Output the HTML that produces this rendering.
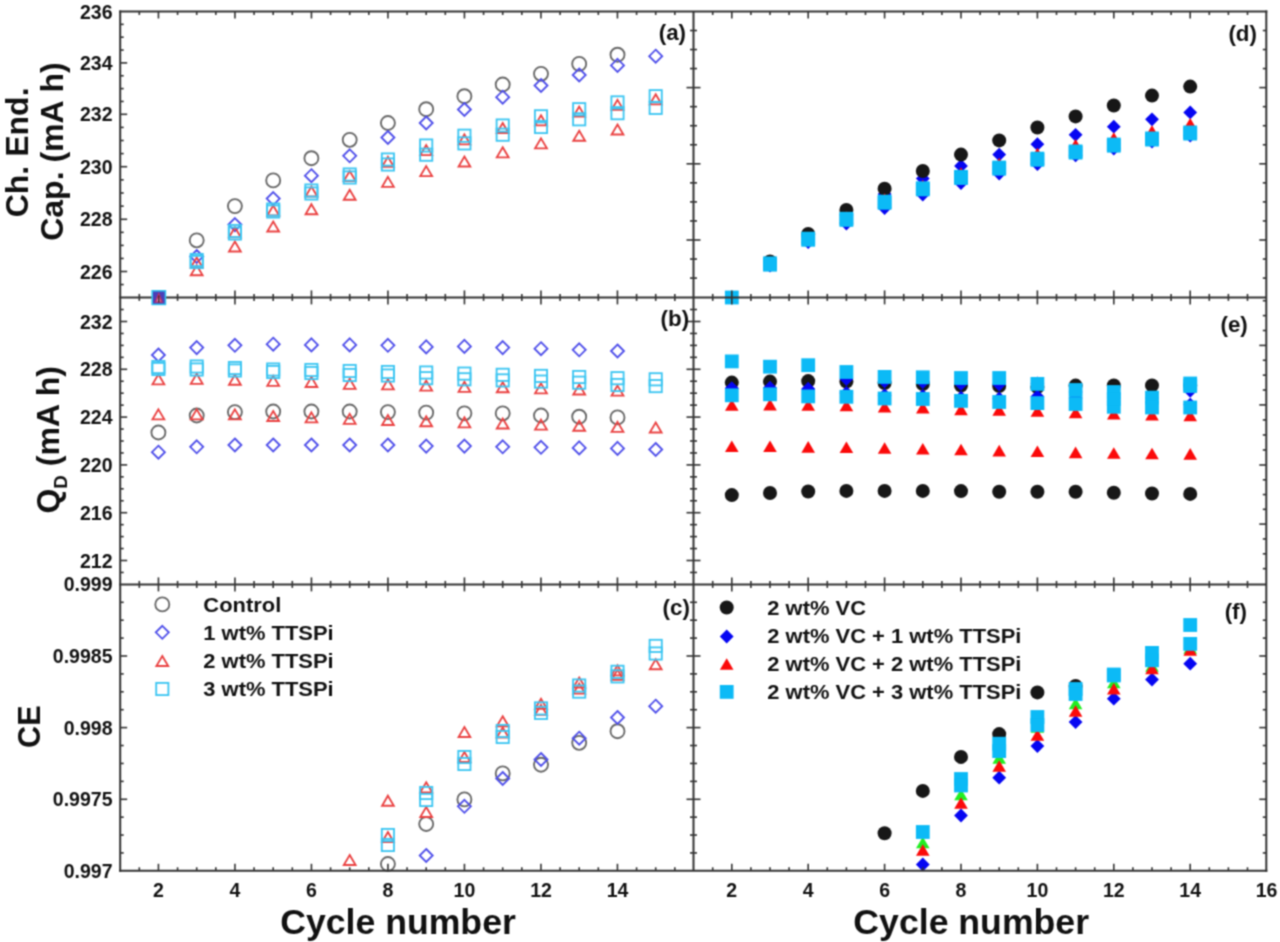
<!DOCTYPE html>
<html><head><meta charset="utf-8"><title>Figure</title>
<style>
html,body{margin:0;padding:0;background:#fff;width:1280px;height:942px;overflow:hidden}
svg{display:block}
text{font-family:"Liberation Sans",sans-serif;font-weight:bold;fill:#111}
</style></head>
<body>
<svg width="1280" height="942" viewBox="0 0 1280 942">
<defs><filter id="soft" x="0" y="0" width="1280" height="942" filterUnits="userSpaceOnUse" color-interpolation-filters="sRGB"><feConvolveMatrix order="3" kernelMatrix="0.0509 0.1238 0.0509 0.1238 0.3012 0.1238 0.0509 0.1238 0.0509" edgeMode="duplicate" preserveAlpha="false"/></filter></defs>
<g filter="url(#soft)">
<rect width="1280" height="942" fill="#fff"/>
<g>
<circle cx="196.7" cy="240.3" r="7.0" fill="none" stroke="#686868" stroke-width="1.85"/>
<circle cx="234.9" cy="206.1" r="7.0" fill="none" stroke="#686868" stroke-width="1.85"/>
<circle cx="273.2" cy="180.4" r="7.0" fill="none" stroke="#686868" stroke-width="1.85"/>
<circle cx="311.4" cy="158.2" r="7.0" fill="none" stroke="#686868" stroke-width="1.85"/>
<circle cx="349.7" cy="139.8" r="7.0" fill="none" stroke="#686868" stroke-width="1.85"/>
<circle cx="387.9" cy="123.0" r="7.0" fill="none" stroke="#686868" stroke-width="1.85"/>
<circle cx="426.2" cy="109.2" r="7.0" fill="none" stroke="#686868" stroke-width="1.85"/>
<circle cx="464.4" cy="96.2" r="7.0" fill="none" stroke="#686868" stroke-width="1.85"/>
<circle cx="502.7" cy="84.5" r="7.0" fill="none" stroke="#686868" stroke-width="1.85"/>
<circle cx="541.0" cy="73.8" r="7.0" fill="none" stroke="#686868" stroke-width="1.85"/>
<circle cx="579.2" cy="63.9" r="7.0" fill="none" stroke="#686868" stroke-width="1.85"/>
<circle cx="617.5" cy="54.7" r="7.0" fill="none" stroke="#686868" stroke-width="1.85"/>
<polygon points="196.7,250.0 203.2,256.5 196.7,263.0 190.2,256.5" fill="none" stroke="#5050ea" stroke-width="1.85"/>
<polygon points="234.9,218.1 241.4,224.6 234.9,231.1 228.4,224.6" fill="none" stroke="#5050ea" stroke-width="1.85"/>
<polygon points="273.2,192.1 279.7,198.6 273.2,205.1 266.7,198.6" fill="none" stroke="#5050ea" stroke-width="1.85"/>
<polygon points="311.4,169.2 317.9,175.7 311.4,182.2 304.9,175.7" fill="none" stroke="#5050ea" stroke-width="1.85"/>
<polygon points="349.7,149.3 356.2,155.8 349.7,162.3 343.2,155.8" fill="none" stroke="#5050ea" stroke-width="1.85"/>
<polygon points="387.9,131.0 394.4,137.5 387.9,144.0 381.4,137.5" fill="none" stroke="#5050ea" stroke-width="1.85"/>
<polygon points="426.2,116.5 432.7,123.0 426.2,129.5 419.7,123.0" fill="none" stroke="#5050ea" stroke-width="1.85"/>
<polygon points="464.4,103.0 470.9,109.5 464.4,116.0 457.9,109.5" fill="none" stroke="#5050ea" stroke-width="1.85"/>
<polygon points="502.7,90.7 509.2,97.2 502.7,103.7 496.2,97.2" fill="none" stroke="#5050ea" stroke-width="1.85"/>
<polygon points="541.0,79.0 547.5,85.5 541.0,92.0 534.5,85.5" fill="none" stroke="#5050ea" stroke-width="1.85"/>
<polygon points="579.2,68.5 585.7,75.0 579.2,81.5 572.7,75.0" fill="none" stroke="#5050ea" stroke-width="1.85"/>
<polygon points="617.5,58.9 624.0,65.4 617.5,71.9 611.0,65.4" fill="none" stroke="#5050ea" stroke-width="1.85"/>
<polygon points="655.7,49.7 662.2,56.2 655.7,62.7 649.2,56.2" fill="none" stroke="#5050ea" stroke-width="1.85"/>
<polygon points="196.7,257.5 202.6,267.5 190.8,267.5" fill="none" stroke="#ea4242" stroke-width="1.85" stroke-linejoin="miter"/>
<polygon points="234.9,227.3 240.8,237.3 229.0,237.3" fill="none" stroke="#ea4242" stroke-width="1.85" stroke-linejoin="miter"/>
<polygon points="273.2,205.5 279.1,215.5 267.3,215.5" fill="none" stroke="#ea4242" stroke-width="1.85" stroke-linejoin="miter"/>
<polygon points="311.4,186.5 317.3,196.5 305.6,196.5" fill="none" stroke="#ea4242" stroke-width="1.85" stroke-linejoin="miter"/>
<polygon points="349.7,171.0 355.6,181.0 343.8,181.0" fill="none" stroke="#ea4242" stroke-width="1.85" stroke-linejoin="miter"/>
<polygon points="387.9,156.8 393.8,166.8 382.1,166.8" fill="none" stroke="#ea4242" stroke-width="1.85" stroke-linejoin="miter"/>
<polygon points="426.2,145.1 432.1,155.1 420.3,155.1" fill="none" stroke="#ea4242" stroke-width="1.85" stroke-linejoin="miter"/>
<polygon points="464.4,134.4 470.3,144.4 458.6,144.4" fill="none" stroke="#ea4242" stroke-width="1.85" stroke-linejoin="miter"/>
<polygon points="502.7,123.0 508.6,133.0 496.8,133.0" fill="none" stroke="#ea4242" stroke-width="1.85" stroke-linejoin="miter"/>
<polygon points="541.0,115.3 546.9,125.3 535.1,125.3" fill="none" stroke="#ea4242" stroke-width="1.85" stroke-linejoin="miter"/>
<polygon points="579.2,106.6 585.1,116.6 573.3,116.6" fill="none" stroke="#ea4242" stroke-width="1.85" stroke-linejoin="miter"/>
<polygon points="617.5,99.9 623.4,109.9 611.6,109.9" fill="none" stroke="#ea4242" stroke-width="1.85" stroke-linejoin="miter"/>
<polygon points="655.7,94.3 661.6,104.3 649.8,104.3" fill="none" stroke="#ea4242" stroke-width="1.85" stroke-linejoin="miter"/>
<polygon points="196.7,265.2 202.6,275.2 190.8,275.2" fill="none" stroke="#ea4242" stroke-width="1.85" stroke-linejoin="miter"/>
<polygon points="234.9,241.5 240.8,251.5 229.0,251.5" fill="none" stroke="#ea4242" stroke-width="1.85" stroke-linejoin="miter"/>
<polygon points="273.2,221.5 279.1,231.5 267.3,231.5" fill="none" stroke="#ea4242" stroke-width="1.85" stroke-linejoin="miter"/>
<polygon points="311.4,204.2 317.3,214.2 305.6,214.2" fill="none" stroke="#ea4242" stroke-width="1.85" stroke-linejoin="miter"/>
<polygon points="349.7,189.7 355.6,199.7 343.8,199.7" fill="none" stroke="#ea4242" stroke-width="1.85" stroke-linejoin="miter"/>
<polygon points="387.9,176.9 393.8,186.9 382.1,186.9" fill="none" stroke="#ea4242" stroke-width="1.85" stroke-linejoin="miter"/>
<polygon points="426.2,166.1 432.1,176.1 420.3,176.1" fill="none" stroke="#ea4242" stroke-width="1.85" stroke-linejoin="miter"/>
<polygon points="464.4,156.5 470.3,166.5 458.6,166.5" fill="none" stroke="#ea4242" stroke-width="1.85" stroke-linejoin="miter"/>
<polygon points="502.7,147.3 508.6,157.3 496.8,157.3" fill="none" stroke="#ea4242" stroke-width="1.85" stroke-linejoin="miter"/>
<polygon points="541.0,138.4 546.9,148.4 535.1,148.4" fill="none" stroke="#ea4242" stroke-width="1.85" stroke-linejoin="miter"/>
<polygon points="579.2,130.7 585.1,140.7 573.3,140.7" fill="none" stroke="#ea4242" stroke-width="1.85" stroke-linejoin="miter"/>
<polygon points="617.5,124.5 623.4,134.5 611.6,134.5" fill="none" stroke="#ea4242" stroke-width="1.85" stroke-linejoin="miter"/>
<rect x="190.6" y="253.9" width="12.2" height="12.2" fill="none" stroke="#3ec6f2" stroke-width="1.85"/>
<rect x="228.8" y="224.9" width="12.2" height="12.2" fill="none" stroke="#3ec6f2" stroke-width="1.85"/>
<rect x="267.1" y="203.4" width="12.2" height="12.2" fill="none" stroke="#3ec6f2" stroke-width="1.85"/>
<rect x="305.3" y="184.4" width="12.2" height="12.2" fill="none" stroke="#3ec6f2" stroke-width="1.85"/>
<rect x="343.6" y="168.4" width="12.2" height="12.2" fill="none" stroke="#3ec6f2" stroke-width="1.85"/>
<rect x="381.8" y="153.4" width="12.2" height="12.2" fill="none" stroke="#3ec6f2" stroke-width="1.85"/>
<rect x="420.1" y="139.4" width="12.2" height="12.2" fill="none" stroke="#3ec6f2" stroke-width="1.85"/>
<rect x="458.3" y="129.6" width="12.2" height="12.2" fill="none" stroke="#3ec6f2" stroke-width="1.85"/>
<rect x="496.6" y="119.4" width="12.2" height="12.2" fill="none" stroke="#3ec6f2" stroke-width="1.85"/>
<rect x="534.9" y="110.2" width="12.2" height="12.2" fill="none" stroke="#3ec6f2" stroke-width="1.85"/>
<rect x="573.1" y="103.1" width="12.2" height="12.2" fill="none" stroke="#3ec6f2" stroke-width="1.85"/>
<rect x="611.4" y="96.3" width="12.2" height="12.2" fill="none" stroke="#3ec6f2" stroke-width="1.85"/>
<rect x="649.6" y="90.1" width="12.2" height="12.2" fill="none" stroke="#3ec6f2" stroke-width="1.85"/>
<rect x="190.6" y="255.9" width="12.2" height="12.2" fill="none" stroke="#3ec6f2" stroke-width="1.85"/>
<rect x="228.8" y="227.4" width="12.2" height="12.2" fill="none" stroke="#3ec6f2" stroke-width="1.85"/>
<rect x="267.1" y="205.4" width="12.2" height="12.2" fill="none" stroke="#3ec6f2" stroke-width="1.85"/>
<rect x="305.3" y="187.4" width="12.2" height="12.2" fill="none" stroke="#3ec6f2" stroke-width="1.85"/>
<rect x="343.6" y="171.4" width="12.2" height="12.2" fill="none" stroke="#3ec6f2" stroke-width="1.85"/>
<rect x="381.8" y="158.4" width="12.2" height="12.2" fill="none" stroke="#3ec6f2" stroke-width="1.85"/>
<rect x="420.1" y="148.6" width="12.2" height="12.2" fill="none" stroke="#3ec6f2" stroke-width="1.85"/>
<rect x="458.3" y="137.3" width="12.2" height="12.2" fill="none" stroke="#3ec6f2" stroke-width="1.85"/>
<rect x="496.6" y="128.6" width="12.2" height="12.2" fill="none" stroke="#3ec6f2" stroke-width="1.85"/>
<rect x="534.9" y="120.9" width="12.2" height="12.2" fill="none" stroke="#3ec6f2" stroke-width="1.85"/>
<rect x="573.1" y="113.2" width="12.2" height="12.2" fill="none" stroke="#3ec6f2" stroke-width="1.85"/>
<rect x="611.4" y="107.1" width="12.2" height="12.2" fill="none" stroke="#3ec6f2" stroke-width="1.85"/>
<rect x="649.6" y="101.8" width="12.2" height="12.2" fill="none" stroke="#3ec6f2" stroke-width="1.85"/>
<circle cx="158.4" cy="432.5" r="7.0" fill="none" stroke="#686868" stroke-width="1.85"/>
<circle cx="196.7" cy="415.5" r="7.0" fill="none" stroke="#686868" stroke-width="1.85"/>
<circle cx="234.9" cy="412.1" r="7.0" fill="none" stroke="#686868" stroke-width="1.85"/>
<circle cx="273.2" cy="411.5" r="7.0" fill="none" stroke="#686868" stroke-width="1.85"/>
<circle cx="311.4" cy="411.5" r="7.0" fill="none" stroke="#686868" stroke-width="1.85"/>
<circle cx="349.7" cy="411.5" r="7.0" fill="none" stroke="#686868" stroke-width="1.85"/>
<circle cx="387.9" cy="412.1" r="7.0" fill="none" stroke="#686868" stroke-width="1.85"/>
<circle cx="426.2" cy="412.6" r="7.0" fill="none" stroke="#686868" stroke-width="1.85"/>
<circle cx="464.4" cy="413.3" r="7.0" fill="none" stroke="#686868" stroke-width="1.85"/>
<circle cx="502.7" cy="413.3" r="7.0" fill="none" stroke="#686868" stroke-width="1.85"/>
<circle cx="541.0" cy="415.5" r="7.0" fill="none" stroke="#686868" stroke-width="1.85"/>
<circle cx="579.2" cy="416.7" r="7.0" fill="none" stroke="#686868" stroke-width="1.85"/>
<circle cx="617.5" cy="417.4" r="7.0" fill="none" stroke="#686868" stroke-width="1.85"/>
<polygon points="158.4,348.5 164.9,355.0 158.4,361.5 151.9,355.0" fill="none" stroke="#5050ea" stroke-width="1.85"/>
<polygon points="196.7,341.1 203.2,347.6 196.7,354.1 190.2,347.6" fill="none" stroke="#5050ea" stroke-width="1.85"/>
<polygon points="234.9,338.8 241.4,345.3 234.9,351.8 228.4,345.3" fill="none" stroke="#5050ea" stroke-width="1.85"/>
<polygon points="273.2,337.7 279.7,344.2 273.2,350.7 266.7,344.2" fill="none" stroke="#5050ea" stroke-width="1.85"/>
<polygon points="311.4,338.4 317.9,344.9 311.4,351.4 304.9,344.9" fill="none" stroke="#5050ea" stroke-width="1.85"/>
<polygon points="349.7,338.4 356.2,344.9 349.7,351.4 343.2,344.9" fill="none" stroke="#5050ea" stroke-width="1.85"/>
<polygon points="387.9,338.8 394.4,345.3 387.9,351.8 381.4,345.3" fill="none" stroke="#5050ea" stroke-width="1.85"/>
<polygon points="426.2,340.4 432.7,346.9 426.2,353.4 419.7,346.9" fill="none" stroke="#5050ea" stroke-width="1.85"/>
<polygon points="464.4,339.9 470.9,346.4 464.4,352.9 457.9,346.4" fill="none" stroke="#5050ea" stroke-width="1.85"/>
<polygon points="502.7,341.1 509.2,347.6 502.7,354.1 496.2,347.6" fill="none" stroke="#5050ea" stroke-width="1.85"/>
<polygon points="541.0,342.2 547.5,348.7 541.0,355.2 534.5,348.7" fill="none" stroke="#5050ea" stroke-width="1.85"/>
<polygon points="579.2,343.3 585.7,349.8 579.2,356.3 572.7,349.8" fill="none" stroke="#5050ea" stroke-width="1.85"/>
<polygon points="617.5,344.5 624.0,351.0 617.5,357.5 611.0,351.0" fill="none" stroke="#5050ea" stroke-width="1.85"/>
<polygon points="158.4,445.7 164.9,452.2 158.4,458.7 151.9,452.2" fill="none" stroke="#5050ea" stroke-width="1.85"/>
<polygon points="196.7,440.3 203.2,446.8 196.7,453.3 190.2,446.8" fill="none" stroke="#5050ea" stroke-width="1.85"/>
<polygon points="234.9,438.5 241.4,445.0 234.9,451.5 228.4,445.0" fill="none" stroke="#5050ea" stroke-width="1.85"/>
<polygon points="273.2,438.5 279.7,445.0 273.2,451.5 266.7,445.0" fill="none" stroke="#5050ea" stroke-width="1.85"/>
<polygon points="311.4,438.5 317.9,445.0 311.4,451.5 304.9,445.0" fill="none" stroke="#5050ea" stroke-width="1.85"/>
<polygon points="349.7,438.5 356.2,445.0 349.7,451.5 343.2,445.0" fill="none" stroke="#5050ea" stroke-width="1.85"/>
<polygon points="387.9,438.5 394.4,445.0 387.9,451.5 381.4,445.0" fill="none" stroke="#5050ea" stroke-width="1.85"/>
<polygon points="426.2,439.6 432.7,446.1 426.2,452.6 419.7,446.1" fill="none" stroke="#5050ea" stroke-width="1.85"/>
<polygon points="464.4,439.6 470.9,446.1 464.4,452.6 457.9,446.1" fill="none" stroke="#5050ea" stroke-width="1.85"/>
<polygon points="502.7,440.3 509.2,446.8 502.7,453.3 496.2,446.8" fill="none" stroke="#5050ea" stroke-width="1.85"/>
<polygon points="541.0,440.8 547.5,447.3 541.0,453.8 534.5,447.3" fill="none" stroke="#5050ea" stroke-width="1.85"/>
<polygon points="579.2,441.4 585.7,447.9 579.2,454.4 572.7,447.9" fill="none" stroke="#5050ea" stroke-width="1.85"/>
<polygon points="617.5,441.9 624.0,448.4 617.5,454.9 611.0,448.4" fill="none" stroke="#5050ea" stroke-width="1.85"/>
<polygon points="655.7,443.0 662.2,449.5 655.7,456.0 649.2,449.5" fill="none" stroke="#5050ea" stroke-width="1.85"/>
<polygon points="158.4,374.3 164.3,384.3 152.5,384.3" fill="none" stroke="#ea4242" stroke-width="1.85" stroke-linejoin="miter"/>
<polygon points="196.7,373.8 202.6,383.8 190.8,383.8" fill="none" stroke="#ea4242" stroke-width="1.85" stroke-linejoin="miter"/>
<polygon points="234.9,374.7 240.8,384.7 229.0,384.7" fill="none" stroke="#ea4242" stroke-width="1.85" stroke-linejoin="miter"/>
<polygon points="273.2,375.9 279.1,385.9 267.3,385.9" fill="none" stroke="#ea4242" stroke-width="1.85" stroke-linejoin="miter"/>
<polygon points="311.4,377.0 317.3,387.0 305.6,387.0" fill="none" stroke="#ea4242" stroke-width="1.85" stroke-linejoin="miter"/>
<polygon points="349.7,378.8 355.6,388.8 343.8,388.8" fill="none" stroke="#ea4242" stroke-width="1.85" stroke-linejoin="miter"/>
<polygon points="387.9,379.3 393.8,389.3 382.1,389.3" fill="none" stroke="#ea4242" stroke-width="1.85" stroke-linejoin="miter"/>
<polygon points="426.2,380.6 432.1,390.6 420.3,390.6" fill="none" stroke="#ea4242" stroke-width="1.85" stroke-linejoin="miter"/>
<polygon points="464.4,381.8 470.3,391.8 458.6,391.8" fill="none" stroke="#ea4242" stroke-width="1.85" stroke-linejoin="miter"/>
<polygon points="502.7,382.2 508.6,392.2 496.8,392.2" fill="none" stroke="#ea4242" stroke-width="1.85" stroke-linejoin="miter"/>
<polygon points="541.0,383.4 546.9,393.4 535.1,393.4" fill="none" stroke="#ea4242" stroke-width="1.85" stroke-linejoin="miter"/>
<polygon points="579.2,384.5 585.1,394.5 573.3,394.5" fill="none" stroke="#ea4242" stroke-width="1.85" stroke-linejoin="miter"/>
<polygon points="617.5,385.6 623.4,395.6 611.6,395.6" fill="none" stroke="#ea4242" stroke-width="1.85" stroke-linejoin="miter"/>
<polygon points="158.4,409.4 164.3,419.4 152.5,419.4" fill="none" stroke="#ea4242" stroke-width="1.85" stroke-linejoin="miter"/>
<polygon points="196.7,409.4 202.6,419.4 190.8,419.4" fill="none" stroke="#ea4242" stroke-width="1.85" stroke-linejoin="miter"/>
<polygon points="234.9,409.4 240.8,419.4 229.0,419.4" fill="none" stroke="#ea4242" stroke-width="1.85" stroke-linejoin="miter"/>
<polygon points="273.2,411.0 279.1,421.0 267.3,421.0" fill="none" stroke="#ea4242" stroke-width="1.85" stroke-linejoin="miter"/>
<polygon points="311.4,412.4 317.3,422.4 305.6,422.4" fill="none" stroke="#ea4242" stroke-width="1.85" stroke-linejoin="miter"/>
<polygon points="349.7,413.9 355.6,423.9 343.8,423.9" fill="none" stroke="#ea4242" stroke-width="1.85" stroke-linejoin="miter"/>
<polygon points="387.9,415.0 393.8,425.0 382.1,425.0" fill="none" stroke="#ea4242" stroke-width="1.85" stroke-linejoin="miter"/>
<polygon points="426.2,416.2 432.1,426.2 420.3,426.2" fill="none" stroke="#ea4242" stroke-width="1.85" stroke-linejoin="miter"/>
<polygon points="464.4,417.3 470.3,427.3 458.6,427.3" fill="none" stroke="#ea4242" stroke-width="1.85" stroke-linejoin="miter"/>
<polygon points="502.7,418.5 508.6,428.5 496.8,428.5" fill="none" stroke="#ea4242" stroke-width="1.85" stroke-linejoin="miter"/>
<polygon points="541.0,419.6 546.9,429.6 535.1,429.6" fill="none" stroke="#ea4242" stroke-width="1.85" stroke-linejoin="miter"/>
<polygon points="579.2,420.7 585.1,430.7 573.3,430.7" fill="none" stroke="#ea4242" stroke-width="1.85" stroke-linejoin="miter"/>
<polygon points="617.5,421.9 623.4,431.9 611.6,431.9" fill="none" stroke="#ea4242" stroke-width="1.85" stroke-linejoin="miter"/>
<polygon points="655.7,422.5 661.6,432.5 649.8,432.5" fill="none" stroke="#ea4242" stroke-width="1.85" stroke-linejoin="miter"/>
<rect x="152.3" y="360.9" width="12.2" height="12.2" fill="none" stroke="#3ec6f2" stroke-width="1.85"/>
<rect x="190.6" y="360.4" width="12.2" height="12.2" fill="none" stroke="#3ec6f2" stroke-width="1.85"/>
<rect x="228.8" y="361.9" width="12.2" height="12.2" fill="none" stroke="#3ec6f2" stroke-width="1.85"/>
<rect x="267.1" y="363.4" width="12.2" height="12.2" fill="none" stroke="#3ec6f2" stroke-width="1.85"/>
<rect x="305.3" y="363.9" width="12.2" height="12.2" fill="none" stroke="#3ec6f2" stroke-width="1.85"/>
<rect x="343.6" y="364.9" width="12.2" height="12.2" fill="none" stroke="#3ec6f2" stroke-width="1.85"/>
<rect x="381.8" y="365.9" width="12.2" height="12.2" fill="none" stroke="#3ec6f2" stroke-width="1.85"/>
<rect x="420.1" y="366.4" width="12.2" height="12.2" fill="none" stroke="#3ec6f2" stroke-width="1.85"/>
<rect x="458.3" y="367.5" width="12.2" height="12.2" fill="none" stroke="#3ec6f2" stroke-width="1.85"/>
<rect x="496.6" y="368.7" width="12.2" height="12.2" fill="none" stroke="#3ec6f2" stroke-width="1.85"/>
<rect x="534.9" y="369.8" width="12.2" height="12.2" fill="none" stroke="#3ec6f2" stroke-width="1.85"/>
<rect x="573.1" y="370.9" width="12.2" height="12.2" fill="none" stroke="#3ec6f2" stroke-width="1.85"/>
<rect x="611.4" y="372.1" width="12.2" height="12.2" fill="none" stroke="#3ec6f2" stroke-width="1.85"/>
<rect x="649.6" y="373.2" width="12.2" height="12.2" fill="none" stroke="#3ec6f2" stroke-width="1.85"/>
<rect x="152.3" y="362.9" width="12.2" height="12.2" fill="none" stroke="#3ec6f2" stroke-width="1.85"/>
<rect x="190.6" y="363.4" width="12.2" height="12.2" fill="none" stroke="#3ec6f2" stroke-width="1.85"/>
<rect x="228.8" y="364.4" width="12.2" height="12.2" fill="none" stroke="#3ec6f2" stroke-width="1.85"/>
<rect x="267.1" y="365.9" width="12.2" height="12.2" fill="none" stroke="#3ec6f2" stroke-width="1.85"/>
<rect x="305.3" y="366.9" width="12.2" height="12.2" fill="none" stroke="#3ec6f2" stroke-width="1.85"/>
<rect x="343.6" y="368.9" width="12.2" height="12.2" fill="none" stroke="#3ec6f2" stroke-width="1.85"/>
<rect x="381.8" y="369.4" width="12.2" height="12.2" fill="none" stroke="#3ec6f2" stroke-width="1.85"/>
<rect x="420.1" y="372.1" width="12.2" height="12.2" fill="none" stroke="#3ec6f2" stroke-width="1.85"/>
<rect x="458.3" y="373.2" width="12.2" height="12.2" fill="none" stroke="#3ec6f2" stroke-width="1.85"/>
<rect x="496.6" y="374.3" width="12.2" height="12.2" fill="none" stroke="#3ec6f2" stroke-width="1.85"/>
<rect x="534.9" y="375.5" width="12.2" height="12.2" fill="none" stroke="#3ec6f2" stroke-width="1.85"/>
<rect x="573.1" y="376.6" width="12.2" height="12.2" fill="none" stroke="#3ec6f2" stroke-width="1.85"/>
<rect x="611.4" y="378.9" width="12.2" height="12.2" fill="none" stroke="#3ec6f2" stroke-width="1.85"/>
<rect x="649.6" y="380.0" width="12.2" height="12.2" fill="none" stroke="#3ec6f2" stroke-width="1.85"/>
<circle cx="387.9" cy="864.0" r="7.0" fill="none" stroke="#686868" stroke-width="1.85"/>
<circle cx="426.2" cy="824.0" r="7.0" fill="none" stroke="#686868" stroke-width="1.85"/>
<circle cx="464.4" cy="799.4" r="7.0" fill="none" stroke="#686868" stroke-width="1.85"/>
<circle cx="502.7" cy="773.4" r="7.0" fill="none" stroke="#686868" stroke-width="1.85"/>
<circle cx="541.0" cy="764.7" r="7.0" fill="none" stroke="#686868" stroke-width="1.85"/>
<circle cx="579.2" cy="742.8" r="7.0" fill="none" stroke="#686868" stroke-width="1.85"/>
<circle cx="617.5" cy="731.2" r="7.0" fill="none" stroke="#686868" stroke-width="1.85"/>
<polygon points="426.2,849.0 432.7,855.5 426.2,862.0 419.7,855.5" fill="none" stroke="#5050ea" stroke-width="1.85"/>
<polygon points="464.4,799.8 470.9,806.3 464.4,812.8 457.9,806.3" fill="none" stroke="#5050ea" stroke-width="1.85"/>
<polygon points="502.7,772.0 509.2,778.5 502.7,785.0 496.2,778.5" fill="none" stroke="#5050ea" stroke-width="1.85"/>
<polygon points="541.0,753.0 547.5,759.5 541.0,766.0 534.5,759.5" fill="none" stroke="#5050ea" stroke-width="1.85"/>
<polygon points="579.2,731.7 585.7,738.2 579.2,744.7 572.7,738.2" fill="none" stroke="#5050ea" stroke-width="1.85"/>
<polygon points="617.5,711.0 624.0,717.5 617.5,724.0 611.0,717.5" fill="none" stroke="#5050ea" stroke-width="1.85"/>
<polygon points="655.7,699.7 662.2,706.2 655.7,712.7 649.2,706.2" fill="none" stroke="#5050ea" stroke-width="1.85"/>
<polygon points="387.9,795.7 393.8,805.7 382.1,805.7" fill="none" stroke="#ea4242" stroke-width="1.85" stroke-linejoin="miter"/>
<polygon points="426.2,782.3 432.1,792.3 420.3,792.3" fill="none" stroke="#ea4242" stroke-width="1.85" stroke-linejoin="miter"/>
<polygon points="464.4,727.0 470.3,737.0 458.6,737.0" fill="none" stroke="#ea4242" stroke-width="1.85" stroke-linejoin="miter"/>
<polygon points="502.7,716.3 508.6,726.3 496.8,726.3" fill="none" stroke="#ea4242" stroke-width="1.85" stroke-linejoin="miter"/>
<polygon points="541.0,698.8 546.9,708.8 535.1,708.8" fill="none" stroke="#ea4242" stroke-width="1.85" stroke-linejoin="miter"/>
<polygon points="579.2,677.5 585.1,687.5 573.3,687.5" fill="none" stroke="#ea4242" stroke-width="1.85" stroke-linejoin="miter"/>
<polygon points="617.5,665.3 623.4,675.3 611.6,675.3" fill="none" stroke="#ea4242" stroke-width="1.85" stroke-linejoin="miter"/>
<polygon points="655.7,659.2 661.6,669.2 649.8,669.2" fill="none" stroke="#ea4242" stroke-width="1.85" stroke-linejoin="miter"/>
<polygon points="349.7,855.0 355.6,865.0 343.8,865.0" fill="none" stroke="#ea4242" stroke-width="1.85" stroke-linejoin="miter"/>
<polygon points="387.9,832.0 393.8,842.0 382.1,842.0" fill="none" stroke="#ea4242" stroke-width="1.85" stroke-linejoin="miter"/>
<polygon points="426.2,807.0 432.1,817.0 420.3,817.0" fill="none" stroke="#ea4242" stroke-width="1.85" stroke-linejoin="miter"/>
<polygon points="464.4,752.0 470.3,762.0 458.6,762.0" fill="none" stroke="#ea4242" stroke-width="1.85" stroke-linejoin="miter"/>
<polygon points="502.7,727.5 508.6,737.5 496.8,737.5" fill="none" stroke="#ea4242" stroke-width="1.85" stroke-linejoin="miter"/>
<polygon points="541.0,704.9 546.9,714.9 535.1,714.9" fill="none" stroke="#ea4242" stroke-width="1.85" stroke-linejoin="miter"/>
<polygon points="579.2,683.6 585.1,693.6 573.3,693.6" fill="none" stroke="#ea4242" stroke-width="1.85" stroke-linejoin="miter"/>
<polygon points="617.5,669.8 623.4,679.8 611.6,679.8" fill="none" stroke="#ea4242" stroke-width="1.85" stroke-linejoin="miter"/>
<rect x="381.8" y="828.9" width="12.2" height="12.2" fill="none" stroke="#3ec6f2" stroke-width="1.85"/>
<rect x="420.1" y="786.9" width="12.2" height="12.2" fill="none" stroke="#3ec6f2" stroke-width="1.85"/>
<rect x="458.3" y="750.9" width="12.2" height="12.2" fill="none" stroke="#3ec6f2" stroke-width="1.85"/>
<rect x="496.6" y="724.9" width="12.2" height="12.2" fill="none" stroke="#3ec6f2" stroke-width="1.85"/>
<rect x="534.9" y="702.3" width="12.2" height="12.2" fill="none" stroke="#3ec6f2" stroke-width="1.85"/>
<rect x="573.1" y="679.4" width="12.2" height="12.2" fill="none" stroke="#3ec6f2" stroke-width="1.85"/>
<rect x="611.4" y="665.7" width="12.2" height="12.2" fill="none" stroke="#3ec6f2" stroke-width="1.85"/>
<rect x="649.6" y="639.8" width="12.2" height="12.2" fill="none" stroke="#3ec6f2" stroke-width="1.85"/>
<rect x="381.8" y="838.9" width="12.2" height="12.2" fill="none" stroke="#3ec6f2" stroke-width="1.85"/>
<rect x="420.1" y="793.9" width="12.2" height="12.2" fill="none" stroke="#3ec6f2" stroke-width="1.85"/>
<rect x="458.3" y="757.9" width="12.2" height="12.2" fill="none" stroke="#3ec6f2" stroke-width="1.85"/>
<rect x="496.6" y="730.9" width="12.2" height="12.2" fill="none" stroke="#3ec6f2" stroke-width="1.85"/>
<rect x="534.9" y="706.8" width="12.2" height="12.2" fill="none" stroke="#3ec6f2" stroke-width="1.85"/>
<rect x="573.1" y="685.5" width="12.2" height="12.2" fill="none" stroke="#3ec6f2" stroke-width="1.85"/>
<rect x="611.4" y="670.3" width="12.2" height="12.2" fill="none" stroke="#3ec6f2" stroke-width="1.85"/>
<rect x="649.6" y="647.4" width="12.2" height="12.2" fill="none" stroke="#3ec6f2" stroke-width="1.85"/>
<circle cx="162.3" cy="604.4" r="7.0" fill="none" stroke="#686868" stroke-width="1.85"/>
<polygon points="162.3,625.8 168.8,632.3 162.3,638.8 155.8,632.3" fill="none" stroke="#5050ea" stroke-width="1.85"/>
<polygon points="162.3,656.0 168.2,666.0 156.4,666.0" fill="none" stroke="#ea4242" stroke-width="1.85" stroke-linejoin="miter"/>
<rect x="156.2" y="682.9" width="12.2" height="12.2" fill="none" stroke="#3ec6f2" stroke-width="1.85"/>
<polygon points="770.0,258.6 776.9,265.5 770.0,272.4 763.1,265.5" fill="#0606f2"/>
<polygon points="808.2,235.2 815.1,242.1 808.2,249.0 801.3,242.1" fill="#0606f2"/>
<polygon points="846.4,216.6 853.3,223.5 846.4,230.4 839.5,223.5" fill="#0606f2"/>
<polygon points="884.6,201.1 891.5,208.0 884.6,214.9 877.7,208.0" fill="#0606f2"/>
<polygon points="922.8,187.7 929.7,194.6 922.8,201.5 915.9,194.6" fill="#0606f2"/>
<polygon points="961.0,176.2 967.9,183.1 961.0,190.0 954.1,183.1" fill="#0606f2"/>
<polygon points="999.2,166.7 1006.1,173.6 999.2,180.5 992.3,173.6" fill="#0606f2"/>
<polygon points="1037.4,157.1 1044.3,164.0 1037.4,170.9 1030.5,164.0" fill="#0606f2"/>
<polygon points="1075.6,148.5 1082.5,155.4 1075.6,162.3 1068.7,155.4" fill="#0606f2"/>
<polygon points="1113.8,141.6 1120.7,148.5 1113.8,155.4 1106.9,148.5" fill="#0606f2"/>
<polygon points="1152.0,134.7 1158.9,141.6 1152.0,148.5 1145.1,141.6" fill="#0606f2"/>
<polygon points="1190.2,128.7 1197.1,135.6 1190.2,142.5 1183.3,135.6" fill="#0606f2"/>
<polygon points="770.0,257.1 776.9,264.0 770.0,270.9 763.1,264.0" fill="#0606f2"/>
<polygon points="808.2,230.1 815.1,237.0 808.2,243.9 801.3,237.0" fill="#0606f2"/>
<polygon points="846.4,208.1 853.3,215.0 846.4,221.9 839.5,215.0" fill="#0606f2"/>
<polygon points="884.6,187.1 891.5,194.0 884.6,200.9 877.7,194.0" fill="#0606f2"/>
<polygon points="922.8,171.7 929.7,178.6 922.8,185.5 915.9,178.6" fill="#0606f2"/>
<polygon points="961.0,159.0 967.9,165.9 961.0,172.8 954.1,165.9" fill="#0606f2"/>
<polygon points="999.2,147.7 1006.1,154.6 999.2,161.5 992.3,154.6" fill="#0606f2"/>
<polygon points="1037.4,137.3 1044.3,144.2 1037.4,151.1 1030.5,144.2" fill="#0606f2"/>
<polygon points="1075.6,127.9 1082.5,134.8 1075.6,141.7 1068.7,134.8" fill="#0606f2"/>
<polygon points="1113.8,119.8 1120.7,126.7 1113.8,133.6 1106.9,126.7" fill="#0606f2"/>
<polygon points="1152.0,112.4 1158.9,119.3 1152.0,126.2 1145.1,119.3" fill="#0606f2"/>
<polygon points="1190.2,105.5 1197.1,112.4 1190.2,119.3 1183.3,112.4" fill="#0606f2"/>
<circle cx="770.0" cy="261.5" r="7.0" fill="#171717"/>
<circle cx="808.2" cy="233.9" r="7.0" fill="#171717"/>
<circle cx="846.4" cy="210.0" r="7.0" fill="#171717"/>
<circle cx="884.6" cy="188.8" r="7.0" fill="#171717"/>
<circle cx="922.8" cy="171.0" r="7.0" fill="#171717"/>
<circle cx="961.0" cy="154.6" r="7.0" fill="#171717"/>
<circle cx="999.2" cy="140.4" r="7.0" fill="#171717"/>
<circle cx="1037.4" cy="127.5" r="7.0" fill="#171717"/>
<circle cx="1075.6" cy="116.4" r="7.0" fill="#171717"/>
<circle cx="1113.8" cy="105.5" r="7.0" fill="#171717"/>
<circle cx="1152.0" cy="95.6" r="7.0" fill="#171717"/>
<circle cx="1190.2" cy="86.6" r="7.0" fill="#171717"/>
<polygon points="770.0,259.2 776.8,270.8 763.2,270.8" fill="#fb0a0a"/>
<polygon points="808.2,232.2 815.0,243.8 801.4,243.8" fill="#fb0a0a"/>
<polygon points="846.4,211.2 853.2,222.8 839.6,222.8" fill="#fb0a0a"/>
<polygon points="884.6,193.2 891.4,204.8 877.8,204.8" fill="#fb0a0a"/>
<polygon points="922.8,179.7 929.6,191.3 916.0,191.3" fill="#fb0a0a"/>
<polygon points="961.0,167.2 967.8,178.8 954.2,178.8" fill="#fb0a0a"/>
<polygon points="999.2,157.7 1006.0,169.3 992.4,169.3" fill="#fb0a0a"/>
<polygon points="1037.4,147.7 1044.2,159.3 1030.6,159.3" fill="#fb0a0a"/>
<polygon points="1075.6,139.0 1082.4,150.6 1068.8,150.6" fill="#fb0a0a"/>
<polygon points="1113.8,132.2 1120.6,143.8 1107.0,143.8" fill="#fb0a0a"/>
<polygon points="1152.0,125.2 1158.8,136.8 1145.2,136.8" fill="#fb0a0a"/>
<polygon points="1190.2,118.0 1197.0,129.6 1183.4,129.6" fill="#fb0a0a"/>
<rect x="724.9" y="290.6" width="13.8" height="13.8" fill="#0cbaf6"/>
<rect x="763.1" y="256.4" width="13.8" height="13.8" fill="#0cbaf6"/>
<rect x="801.3" y="231.7" width="13.8" height="13.8" fill="#0cbaf6"/>
<rect x="839.5" y="211.8" width="13.8" height="13.8" fill="#0cbaf6"/>
<rect x="877.7" y="194.7" width="13.8" height="13.8" fill="#0cbaf6"/>
<rect x="915.9" y="181.3" width="13.8" height="13.8" fill="#0cbaf6"/>
<rect x="954.1" y="169.9" width="13.8" height="13.8" fill="#0cbaf6"/>
<rect x="992.3" y="160.6" width="13.8" height="13.8" fill="#0cbaf6"/>
<rect x="1030.5" y="151.7" width="13.8" height="13.8" fill="#0cbaf6"/>
<rect x="1068.7" y="144.5" width="13.8" height="13.8" fill="#0cbaf6"/>
<rect x="1106.9" y="137.6" width="13.8" height="13.8" fill="#0cbaf6"/>
<rect x="1145.1" y="131.5" width="13.8" height="13.8" fill="#0cbaf6"/>
<rect x="1183.3" y="125.5" width="13.8" height="13.8" fill="#0cbaf6"/>
<rect x="763.1" y="257.8" width="13.8" height="13.8" fill="#0cbaf6"/>
<rect x="801.3" y="232.9" width="13.8" height="13.8" fill="#0cbaf6"/>
<rect x="839.5" y="213.0" width="13.8" height="13.8" fill="#0cbaf6"/>
<rect x="877.7" y="195.9" width="13.8" height="13.8" fill="#0cbaf6"/>
<rect x="915.9" y="182.5" width="13.8" height="13.8" fill="#0cbaf6"/>
<rect x="954.1" y="171.1" width="13.8" height="13.8" fill="#0cbaf6"/>
<rect x="992.3" y="161.8" width="13.8" height="13.8" fill="#0cbaf6"/>
<rect x="1030.5" y="152.9" width="13.8" height="13.8" fill="#0cbaf6"/>
<rect x="1068.7" y="145.7" width="13.8" height="13.8" fill="#0cbaf6"/>
<rect x="1106.9" y="138.8" width="13.8" height="13.8" fill="#0cbaf6"/>
<rect x="1145.1" y="132.7" width="13.8" height="13.8" fill="#0cbaf6"/>
<rect x="1183.3" y="126.7" width="13.8" height="13.8" fill="#0cbaf6"/>
<circle cx="731.8" cy="382.6" r="7.0" fill="#171717"/>
<circle cx="770.0" cy="381.6" r="7.0" fill="#171717"/>
<circle cx="808.2" cy="381.1" r="7.0" fill="#171717"/>
<circle cx="846.4" cy="381.6" r="7.0" fill="#171717"/>
<circle cx="884.6" cy="383.0" r="7.0" fill="#171717"/>
<circle cx="922.8" cy="384.0" r="7.0" fill="#171717"/>
<circle cx="961.0" cy="385.6" r="7.0" fill="#171717"/>
<circle cx="999.2" cy="386.0" r="7.0" fill="#171717"/>
<circle cx="1037.4" cy="387.0" r="7.0" fill="#171717"/>
<circle cx="1075.6" cy="385.6" r="7.0" fill="#171717"/>
<circle cx="1113.8" cy="385.5" r="7.0" fill="#171717"/>
<circle cx="1152.0" cy="385.4" r="7.0" fill="#171717"/>
<circle cx="1190.2" cy="385.5" r="7.0" fill="#171717"/>
<circle cx="731.8" cy="495.1" r="7.0" fill="#171717"/>
<circle cx="770.0" cy="493.0" r="7.0" fill="#171717"/>
<circle cx="808.2" cy="491.5" r="7.0" fill="#171717"/>
<circle cx="846.4" cy="490.9" r="7.0" fill="#171717"/>
<circle cx="884.6" cy="490.9" r="7.0" fill="#171717"/>
<circle cx="922.8" cy="490.9" r="7.0" fill="#171717"/>
<circle cx="961.0" cy="491.1" r="7.0" fill="#171717"/>
<circle cx="999.2" cy="491.7" r="7.0" fill="#171717"/>
<circle cx="1037.4" cy="491.7" r="7.0" fill="#171717"/>
<circle cx="1075.6" cy="491.7" r="7.0" fill="#171717"/>
<circle cx="1113.8" cy="492.8" r="7.0" fill="#171717"/>
<circle cx="1152.0" cy="493.5" r="7.0" fill="#171717"/>
<circle cx="1190.2" cy="493.9" r="7.0" fill="#171717"/>
<polygon points="731.8,381.4 738.7,388.3 731.8,395.2 724.9,388.3" fill="#0606f2"/>
<polygon points="770.0,381.1 776.9,388.0 770.0,394.9 763.1,388.0" fill="#0606f2"/>
<polygon points="808.2,382.1 815.1,389.0 808.2,395.9 801.3,389.0" fill="#0606f2"/>
<polygon points="846.4,372.1 853.3,379.0 846.4,385.9 839.5,379.0" fill="#0606f2"/>
<polygon points="884.6,374.5 891.5,381.4 884.6,388.3 877.7,381.4" fill="#0606f2"/>
<polygon points="922.8,375.1 929.7,382.0 922.8,388.9 915.9,382.0" fill="#0606f2"/>
<polygon points="961.0,377.0 967.9,383.9 961.0,390.8 954.1,383.9" fill="#0606f2"/>
<polygon points="999.2,377.7 1006.1,384.6 999.2,391.5 992.3,384.6" fill="#0606f2"/>
<polygon points="1037.4,376.6 1044.3,383.5 1037.4,390.4 1030.5,383.5" fill="#0606f2"/>
<polygon points="1075.6,385.1 1082.5,392.0 1075.6,398.9 1068.7,392.0" fill="#0606f2"/>
<polygon points="1113.8,387.1 1120.7,394.0 1113.8,400.9 1106.9,394.0" fill="#0606f2"/>
<polygon points="1152.0,391.1 1158.9,398.0 1152.0,404.9 1145.1,398.0" fill="#0606f2"/>
<polygon points="1190.2,383.9 1197.1,390.8 1190.2,397.7 1183.3,390.8" fill="#0606f2"/>
<polygon points="731.8,381.4 738.7,388.3 731.8,395.2 724.9,388.3" fill="#0606f2"/>
<polygon points="770.0,381.1 776.9,388.0 770.0,394.9 763.1,388.0" fill="#0606f2"/>
<polygon points="808.2,382.1 815.1,389.0 808.2,395.9 801.3,389.0" fill="#0606f2"/>
<polygon points="846.4,386.1 853.3,393.0 846.4,399.9 839.5,393.0" fill="#0606f2"/>
<polygon points="884.6,388.3 891.5,395.2 884.6,402.1 877.7,395.2" fill="#0606f2"/>
<polygon points="922.8,389.1 929.7,396.0 922.8,402.9 915.9,396.0" fill="#0606f2"/>
<polygon points="961.0,390.8 967.9,397.7 961.0,404.6 954.1,397.7" fill="#0606f2"/>
<polygon points="999.2,391.5 1006.1,398.4 999.2,405.3 992.3,398.4" fill="#0606f2"/>
<polygon points="1037.4,389.5 1044.3,396.4 1037.4,403.3 1030.5,396.4" fill="#0606f2"/>
<polygon points="1075.6,391.1 1082.5,398.0 1075.6,404.9 1068.7,398.0" fill="#0606f2"/>
<polygon points="1113.8,392.1 1120.7,399.0 1113.8,405.9 1106.9,399.0" fill="#0606f2"/>
<polygon points="1152.0,395.1 1158.9,402.0 1152.0,408.9 1145.1,402.0" fill="#0606f2"/>
<polygon points="1190.2,397.7 1197.1,404.6 1190.2,411.5 1183.3,404.6" fill="#0606f2"/>
<polygon points="731.8,399.2 738.6,410.8 725.0,410.8" fill="#fb0a0a"/>
<polygon points="770.0,398.8 776.8,410.4 763.2,410.4" fill="#fb0a0a"/>
<polygon points="808.2,399.2 815.0,410.8 801.4,410.8" fill="#fb0a0a"/>
<polygon points="846.4,399.6 853.2,411.2 839.6,411.2" fill="#fb0a0a"/>
<polygon points="884.6,400.9 891.4,412.5 877.8,412.5" fill="#fb0a0a"/>
<polygon points="922.8,401.8 929.6,413.4 916.0,413.4" fill="#fb0a0a"/>
<polygon points="961.0,403.6 967.8,415.2 954.2,415.2" fill="#fb0a0a"/>
<polygon points="999.2,404.1 1006.0,415.7 992.4,415.7" fill="#fb0a0a"/>
<polygon points="1037.4,405.2 1044.2,416.8 1030.6,416.8" fill="#fb0a0a"/>
<polygon points="1075.6,406.7 1082.4,418.3 1068.8,418.3" fill="#fb0a0a"/>
<polygon points="1113.8,407.8 1120.6,419.4 1107.0,419.4" fill="#fb0a0a"/>
<polygon points="1152.0,408.9 1158.8,420.5 1145.2,420.5" fill="#fb0a0a"/>
<polygon points="1190.2,409.6 1197.0,421.2 1183.4,421.2" fill="#fb0a0a"/>
<polygon points="731.8,440.5 738.6,452.1 725.0,452.1" fill="#fb0a0a"/>
<polygon points="770.0,440.5 776.8,452.1 763.2,452.1" fill="#fb0a0a"/>
<polygon points="808.2,441.1 815.0,452.7 801.4,452.7" fill="#fb0a0a"/>
<polygon points="846.4,441.5 853.2,453.1 839.6,453.1" fill="#fb0a0a"/>
<polygon points="884.6,442.2 891.4,453.8 877.8,453.8" fill="#fb0a0a"/>
<polygon points="922.8,443.0 929.6,454.6 916.0,454.6" fill="#fb0a0a"/>
<polygon points="961.0,443.7 967.8,455.3 954.2,455.3" fill="#fb0a0a"/>
<polygon points="999.2,444.8 1006.0,456.4 992.4,456.4" fill="#fb0a0a"/>
<polygon points="1037.4,445.5 1044.2,457.1 1030.6,457.1" fill="#fb0a0a"/>
<polygon points="1075.6,446.6 1082.4,458.2 1068.8,458.2" fill="#fb0a0a"/>
<polygon points="1113.8,447.2 1120.6,458.8 1107.0,458.8" fill="#fb0a0a"/>
<polygon points="1152.0,447.7 1158.8,459.3 1145.2,459.3" fill="#fb0a0a"/>
<polygon points="1190.2,448.1 1197.0,459.7 1183.4,459.7" fill="#fb0a0a"/>
<rect x="724.9" y="354.5" width="13.8" height="13.8" fill="#0cbaf6"/>
<rect x="763.1" y="359.8" width="13.8" height="13.8" fill="#0cbaf6"/>
<rect x="801.3" y="358.3" width="13.8" height="13.8" fill="#0cbaf6"/>
<rect x="839.5" y="365.1" width="13.8" height="13.8" fill="#0cbaf6"/>
<rect x="877.7" y="370.0" width="13.8" height="13.8" fill="#0cbaf6"/>
<rect x="915.9" y="370.4" width="13.8" height="13.8" fill="#0cbaf6"/>
<rect x="954.1" y="371.1" width="13.8" height="13.8" fill="#0cbaf6"/>
<rect x="992.3" y="371.1" width="13.8" height="13.8" fill="#0cbaf6"/>
<rect x="1030.5" y="377.0" width="13.8" height="13.8" fill="#0cbaf6"/>
<rect x="1068.7" y="383.1" width="13.8" height="13.8" fill="#0cbaf6"/>
<rect x="1106.9" y="385.1" width="13.8" height="13.8" fill="#0cbaf6"/>
<rect x="1145.1" y="390.7" width="13.8" height="13.8" fill="#0cbaf6"/>
<rect x="1183.3" y="376.6" width="13.8" height="13.8" fill="#0cbaf6"/>
<rect x="724.9" y="388.4" width="13.8" height="13.8" fill="#0cbaf6"/>
<rect x="763.1" y="387.4" width="13.8" height="13.8" fill="#0cbaf6"/>
<rect x="801.3" y="389.5" width="13.8" height="13.8" fill="#0cbaf6"/>
<rect x="839.5" y="389.9" width="13.8" height="13.8" fill="#0cbaf6"/>
<rect x="877.7" y="391.6" width="13.8" height="13.8" fill="#0cbaf6"/>
<rect x="915.9" y="392.1" width="13.8" height="13.8" fill="#0cbaf6"/>
<rect x="954.1" y="394.0" width="13.8" height="13.8" fill="#0cbaf6"/>
<rect x="992.3" y="395.1" width="13.8" height="13.8" fill="#0cbaf6"/>
<rect x="1030.5" y="396.2" width="13.8" height="13.8" fill="#0cbaf6"/>
<rect x="1068.7" y="397.1" width="13.8" height="13.8" fill="#0cbaf6"/>
<rect x="1106.9" y="399.9" width="13.8" height="13.8" fill="#0cbaf6"/>
<rect x="1145.1" y="400.6" width="13.8" height="13.8" fill="#0cbaf6"/>
<rect x="1183.3" y="400.6" width="13.8" height="13.8" fill="#0cbaf6"/>
<rect x="1106.9" y="392.1" width="13.8" height="13.8" fill="#0cbaf6"/>
<rect x="1183.3" y="379.1" width="13.8" height="13.8" fill="#0cbaf6"/>
<circle cx="884.6" cy="833.3" r="7.0" fill="#171717"/>
<circle cx="922.8" cy="790.9" r="7.0" fill="#171717"/>
<circle cx="961.0" cy="756.9" r="7.0" fill="#171717"/>
<circle cx="999.2" cy="734.1" r="7.0" fill="#171717"/>
<circle cx="1037.4" cy="692.4" r="7.0" fill="#171717"/>
<circle cx="1075.6" cy="686.0" r="7.0" fill="#171717"/>
<polygon points="922.8,857.6 929.7,864.5 922.8,871.4 915.9,864.5" fill="#0606f2"/>
<polygon points="961.0,808.6 967.9,815.5 961.0,822.4 954.1,815.5" fill="#0606f2"/>
<polygon points="999.2,770.8 1006.1,777.7 999.2,784.6 992.3,777.7" fill="#0606f2"/>
<polygon points="1037.4,739.2 1044.3,746.1 1037.4,753.0 1030.5,746.1" fill="#0606f2"/>
<polygon points="1075.6,715.2 1082.5,722.1 1075.6,729.0 1068.7,722.1" fill="#0606f2"/>
<polygon points="1113.8,691.8 1120.7,698.7 1113.8,705.6 1106.9,698.7" fill="#0606f2"/>
<polygon points="1152.0,672.7 1158.9,679.6 1152.0,686.5 1145.1,679.6" fill="#0606f2"/>
<polygon points="1190.2,656.8 1197.1,663.7 1190.2,670.6 1183.3,663.7" fill="#0606f2"/>
<polygon points="922.8,836.7 929.6,848.3 916.0,848.3" fill="#22ee22"/>
<polygon points="961.0,788.7 967.8,800.3 954.2,800.3" fill="#22ee22"/>
<polygon points="999.2,752.2 1006.0,763.8 992.4,763.8" fill="#22ee22"/>
<polygon points="1037.4,721.2 1044.2,732.8 1030.6,732.8" fill="#22ee22"/>
<polygon points="1075.6,697.7 1082.4,709.3 1068.8,709.3" fill="#22ee22"/>
<polygon points="1113.8,676.7 1120.6,688.3 1107.0,688.3" fill="#22ee22"/>
<polygon points="1152.0,660.2 1158.8,671.8 1145.2,671.8" fill="#22ee22"/>
<polygon points="1190.2,642.2 1197.0,653.8 1183.4,653.8" fill="#22ee22"/>
<polygon points="922.8,844.2 929.6,855.8 916.0,855.8" fill="#fb0a0a"/>
<polygon points="961.0,797.2 967.8,808.8 954.2,808.8" fill="#fb0a0a"/>
<polygon points="999.2,760.2 1006.0,771.8 992.4,771.8" fill="#fb0a0a"/>
<polygon points="1037.4,729.2 1044.2,740.8 1030.6,740.8" fill="#fb0a0a"/>
<polygon points="1075.6,705.2 1082.4,716.8 1068.8,716.8" fill="#fb0a0a"/>
<polygon points="1113.8,682.9 1120.6,694.5 1107.0,694.5" fill="#fb0a0a"/>
<polygon points="1152.0,662.7 1158.8,674.3 1145.2,674.3" fill="#fb0a0a"/>
<polygon points="1190.2,644.2 1197.0,655.8 1183.4,655.8" fill="#fb0a0a"/>
<rect x="915.9" y="825.1" width="13.8" height="13.8" fill="#0cbaf6"/>
<rect x="954.1" y="772.1" width="13.8" height="13.8" fill="#0cbaf6"/>
<rect x="992.3" y="736.8" width="13.8" height="13.8" fill="#0cbaf6"/>
<rect x="1030.5" y="710.1" width="13.8" height="13.8" fill="#0cbaf6"/>
<rect x="1068.7" y="682.1" width="13.8" height="13.8" fill="#0cbaf6"/>
<rect x="1106.9" y="667.6" width="13.8" height="13.8" fill="#0cbaf6"/>
<rect x="1145.1" y="646.0" width="13.8" height="13.8" fill="#0cbaf6"/>
<rect x="1183.3" y="618.1" width="13.8" height="13.8" fill="#0cbaf6"/>
<rect x="954.1" y="778.6" width="13.8" height="13.8" fill="#0cbaf6"/>
<rect x="992.3" y="744.2" width="13.8" height="13.8" fill="#0cbaf6"/>
<rect x="1030.5" y="718.1" width="13.8" height="13.8" fill="#0cbaf6"/>
<rect x="1068.7" y="687.1" width="13.8" height="13.8" fill="#0cbaf6"/>
<rect x="1106.9" y="668.6" width="13.8" height="13.8" fill="#0cbaf6"/>
<rect x="1145.1" y="653.4" width="13.8" height="13.8" fill="#0cbaf6"/>
<rect x="1183.3" y="637.0" width="13.8" height="13.8" fill="#0cbaf6"/>
<circle cx="726.7" cy="607.5" r="7.0" fill="#171717"/>
<polygon points="726.7,629.6 733.6,636.5 726.7,643.4 719.8,636.5" fill="#0606f2"/>
<polygon points="726.7,658.2 733.5,669.8 719.9,669.8" fill="#fb0a0a"/>
<rect x="719.8" y="685.0" width="13.8" height="13.8" fill="#0cbaf6"/>
</g>
<g stroke-linecap="butt">
<line x1="120.20" y1="24.35" x2="123.70" y2="24.35" stroke="#333" stroke-width="1.6"/>
<line x1="120.20" y1="37.20" x2="123.70" y2="37.20" stroke="#333" stroke-width="1.6"/>
<line x1="120.20" y1="50.05" x2="123.70" y2="50.05" stroke="#333" stroke-width="1.6"/>
<line x1="120.20" y1="62.90" x2="127.20" y2="62.90" stroke="#333" stroke-width="1.6"/>
<line x1="120.20" y1="75.75" x2="123.70" y2="75.75" stroke="#333" stroke-width="1.6"/>
<line x1="120.20" y1="88.60" x2="123.70" y2="88.60" stroke="#333" stroke-width="1.6"/>
<line x1="120.20" y1="101.45" x2="123.70" y2="101.45" stroke="#333" stroke-width="1.6"/>
<line x1="120.20" y1="114.30" x2="127.20" y2="114.30" stroke="#333" stroke-width="1.6"/>
<line x1="120.20" y1="127.40" x2="123.70" y2="127.40" stroke="#333" stroke-width="1.6"/>
<line x1="120.20" y1="140.50" x2="123.70" y2="140.50" stroke="#333" stroke-width="1.6"/>
<line x1="120.20" y1="153.60" x2="123.70" y2="153.60" stroke="#333" stroke-width="1.6"/>
<line x1="120.20" y1="166.70" x2="127.20" y2="166.70" stroke="#333" stroke-width="1.6"/>
<line x1="120.20" y1="179.85" x2="123.70" y2="179.85" stroke="#333" stroke-width="1.6"/>
<line x1="120.20" y1="193.00" x2="123.70" y2="193.00" stroke="#333" stroke-width="1.6"/>
<line x1="120.20" y1="206.15" x2="123.70" y2="206.15" stroke="#333" stroke-width="1.6"/>
<line x1="120.20" y1="219.30" x2="127.20" y2="219.30" stroke="#333" stroke-width="1.6"/>
<line x1="120.20" y1="232.35" x2="123.70" y2="232.35" stroke="#333" stroke-width="1.6"/>
<line x1="120.20" y1="245.40" x2="123.70" y2="245.40" stroke="#333" stroke-width="1.6"/>
<line x1="120.20" y1="258.45" x2="123.70" y2="258.45" stroke="#333" stroke-width="1.6"/>
<line x1="120.20" y1="271.50" x2="127.20" y2="271.50" stroke="#333" stroke-width="1.6"/>
<line x1="120.20" y1="284.55" x2="123.70" y2="284.55" stroke="#333" stroke-width="1.6"/>
<line x1="120.20" y1="309.52" x2="123.70" y2="309.52" stroke="#333" stroke-width="1.6"/>
<line x1="120.20" y1="321.50" x2="127.20" y2="321.50" stroke="#333" stroke-width="1.6"/>
<line x1="120.20" y1="333.45" x2="123.70" y2="333.45" stroke="#333" stroke-width="1.6"/>
<line x1="120.20" y1="345.40" x2="123.70" y2="345.40" stroke="#333" stroke-width="1.6"/>
<line x1="120.20" y1="357.35" x2="123.70" y2="357.35" stroke="#333" stroke-width="1.6"/>
<line x1="120.20" y1="369.30" x2="127.20" y2="369.30" stroke="#333" stroke-width="1.6"/>
<line x1="120.20" y1="381.25" x2="123.70" y2="381.25" stroke="#333" stroke-width="1.6"/>
<line x1="120.20" y1="393.20" x2="123.70" y2="393.20" stroke="#333" stroke-width="1.6"/>
<line x1="120.20" y1="405.15" x2="123.70" y2="405.15" stroke="#333" stroke-width="1.6"/>
<line x1="120.20" y1="417.10" x2="127.20" y2="417.10" stroke="#333" stroke-width="1.6"/>
<line x1="120.20" y1="429.05" x2="123.70" y2="429.05" stroke="#333" stroke-width="1.6"/>
<line x1="120.20" y1="441.00" x2="123.70" y2="441.00" stroke="#333" stroke-width="1.6"/>
<line x1="120.20" y1="452.95" x2="123.70" y2="452.95" stroke="#333" stroke-width="1.6"/>
<line x1="120.20" y1="464.90" x2="127.20" y2="464.90" stroke="#333" stroke-width="1.6"/>
<line x1="120.20" y1="476.85" x2="123.70" y2="476.85" stroke="#333" stroke-width="1.6"/>
<line x1="120.20" y1="488.80" x2="123.70" y2="488.80" stroke="#333" stroke-width="1.6"/>
<line x1="120.20" y1="500.75" x2="123.70" y2="500.75" stroke="#333" stroke-width="1.6"/>
<line x1="120.20" y1="512.70" x2="127.20" y2="512.70" stroke="#333" stroke-width="1.6"/>
<line x1="120.20" y1="524.65" x2="123.70" y2="524.65" stroke="#333" stroke-width="1.6"/>
<line x1="120.20" y1="536.60" x2="123.70" y2="536.60" stroke="#333" stroke-width="1.6"/>
<line x1="120.20" y1="548.55" x2="123.70" y2="548.55" stroke="#333" stroke-width="1.6"/>
<line x1="120.20" y1="560.50" x2="127.20" y2="560.50" stroke="#333" stroke-width="1.6"/>
<line x1="120.20" y1="572.45" x2="123.70" y2="572.45" stroke="#333" stroke-width="1.6"/>
<line x1="120.20" y1="602.30" x2="123.70" y2="602.30" stroke="#333" stroke-width="1.6"/>
<line x1="120.20" y1="620.20" x2="123.70" y2="620.20" stroke="#333" stroke-width="1.6"/>
<line x1="120.20" y1="638.10" x2="123.70" y2="638.10" stroke="#333" stroke-width="1.6"/>
<line x1="120.20" y1="656.00" x2="127.20" y2="656.00" stroke="#333" stroke-width="1.6"/>
<line x1="120.20" y1="673.90" x2="123.70" y2="673.90" stroke="#333" stroke-width="1.6"/>
<line x1="120.20" y1="691.80" x2="123.70" y2="691.80" stroke="#333" stroke-width="1.6"/>
<line x1="120.20" y1="709.70" x2="123.70" y2="709.70" stroke="#333" stroke-width="1.6"/>
<line x1="120.20" y1="727.60" x2="127.20" y2="727.60" stroke="#333" stroke-width="1.6"/>
<line x1="120.20" y1="745.52" x2="123.70" y2="745.52" stroke="#333" stroke-width="1.6"/>
<line x1="120.20" y1="763.45" x2="123.70" y2="763.45" stroke="#333" stroke-width="1.6"/>
<line x1="120.20" y1="781.38" x2="123.70" y2="781.38" stroke="#333" stroke-width="1.6"/>
<line x1="120.20" y1="799.30" x2="127.20" y2="799.30" stroke="#333" stroke-width="1.6"/>
<line x1="120.20" y1="817.17" x2="123.70" y2="817.17" stroke="#333" stroke-width="1.6"/>
<line x1="120.20" y1="835.05" x2="123.70" y2="835.05" stroke="#333" stroke-width="1.6"/>
<line x1="120.20" y1="852.92" x2="123.70" y2="852.92" stroke="#333" stroke-width="1.6"/>
<line x1="690.00" y1="30.52" x2="697.00" y2="30.52" stroke="#333" stroke-width="1.6"/>
<line x1="690.00" y1="49.55" x2="697.00" y2="49.55" stroke="#333" stroke-width="1.6"/>
<line x1="690.00" y1="68.57" x2="697.00" y2="68.57" stroke="#333" stroke-width="1.6"/>
<line x1="686.50" y1="87.60" x2="700.50" y2="87.60" stroke="#333" stroke-width="1.6"/>
<line x1="690.00" y1="106.65" x2="697.00" y2="106.65" stroke="#333" stroke-width="1.6"/>
<line x1="690.00" y1="125.70" x2="697.00" y2="125.70" stroke="#333" stroke-width="1.6"/>
<line x1="690.00" y1="144.75" x2="697.00" y2="144.75" stroke="#333" stroke-width="1.6"/>
<line x1="686.50" y1="163.80" x2="700.50" y2="163.80" stroke="#333" stroke-width="1.6"/>
<line x1="690.00" y1="182.85" x2="697.00" y2="182.85" stroke="#333" stroke-width="1.6"/>
<line x1="690.00" y1="201.90" x2="697.00" y2="201.90" stroke="#333" stroke-width="1.6"/>
<line x1="690.00" y1="220.95" x2="697.00" y2="220.95" stroke="#333" stroke-width="1.6"/>
<line x1="686.50" y1="240.00" x2="700.50" y2="240.00" stroke="#333" stroke-width="1.6"/>
<line x1="690.00" y1="259.05" x2="697.00" y2="259.05" stroke="#333" stroke-width="1.6"/>
<line x1="690.00" y1="278.10" x2="697.00" y2="278.10" stroke="#333" stroke-width="1.6"/>
<line x1="690.00" y1="309.52" x2="697.00" y2="309.52" stroke="#333" stroke-width="1.6"/>
<line x1="686.50" y1="321.50" x2="700.50" y2="321.50" stroke="#333" stroke-width="1.6"/>
<line x1="690.00" y1="333.45" x2="697.00" y2="333.45" stroke="#333" stroke-width="1.6"/>
<line x1="690.00" y1="345.40" x2="697.00" y2="345.40" stroke="#333" stroke-width="1.6"/>
<line x1="690.00" y1="357.35" x2="697.00" y2="357.35" stroke="#333" stroke-width="1.6"/>
<line x1="686.50" y1="369.30" x2="700.50" y2="369.30" stroke="#333" stroke-width="1.6"/>
<line x1="690.00" y1="381.25" x2="697.00" y2="381.25" stroke="#333" stroke-width="1.6"/>
<line x1="690.00" y1="393.20" x2="697.00" y2="393.20" stroke="#333" stroke-width="1.6"/>
<line x1="690.00" y1="405.15" x2="697.00" y2="405.15" stroke="#333" stroke-width="1.6"/>
<line x1="686.50" y1="417.10" x2="700.50" y2="417.10" stroke="#333" stroke-width="1.6"/>
<line x1="690.00" y1="429.05" x2="697.00" y2="429.05" stroke="#333" stroke-width="1.6"/>
<line x1="690.00" y1="441.00" x2="697.00" y2="441.00" stroke="#333" stroke-width="1.6"/>
<line x1="690.00" y1="452.95" x2="697.00" y2="452.95" stroke="#333" stroke-width="1.6"/>
<line x1="686.50" y1="464.90" x2="700.50" y2="464.90" stroke="#333" stroke-width="1.6"/>
<line x1="690.00" y1="476.85" x2="697.00" y2="476.85" stroke="#333" stroke-width="1.6"/>
<line x1="690.00" y1="488.80" x2="697.00" y2="488.80" stroke="#333" stroke-width="1.6"/>
<line x1="690.00" y1="500.75" x2="697.00" y2="500.75" stroke="#333" stroke-width="1.6"/>
<line x1="686.50" y1="512.70" x2="700.50" y2="512.70" stroke="#333" stroke-width="1.6"/>
<line x1="690.00" y1="524.65" x2="697.00" y2="524.65" stroke="#333" stroke-width="1.6"/>
<line x1="690.00" y1="536.60" x2="697.00" y2="536.60" stroke="#333" stroke-width="1.6"/>
<line x1="690.00" y1="548.55" x2="697.00" y2="548.55" stroke="#333" stroke-width="1.6"/>
<line x1="686.50" y1="560.50" x2="700.50" y2="560.50" stroke="#333" stroke-width="1.6"/>
<line x1="690.00" y1="572.45" x2="697.00" y2="572.45" stroke="#333" stroke-width="1.6"/>
<line x1="690.00" y1="602.30" x2="697.00" y2="602.30" stroke="#333" stroke-width="1.6"/>
<line x1="690.00" y1="620.20" x2="697.00" y2="620.20" stroke="#333" stroke-width="1.6"/>
<line x1="690.00" y1="638.10" x2="697.00" y2="638.10" stroke="#333" stroke-width="1.6"/>
<line x1="686.50" y1="656.00" x2="700.50" y2="656.00" stroke="#333" stroke-width="1.6"/>
<line x1="690.00" y1="673.90" x2="697.00" y2="673.90" stroke="#333" stroke-width="1.6"/>
<line x1="690.00" y1="691.80" x2="697.00" y2="691.80" stroke="#333" stroke-width="1.6"/>
<line x1="690.00" y1="709.70" x2="697.00" y2="709.70" stroke="#333" stroke-width="1.6"/>
<line x1="686.50" y1="727.60" x2="700.50" y2="727.60" stroke="#333" stroke-width="1.6"/>
<line x1="690.00" y1="745.52" x2="697.00" y2="745.52" stroke="#333" stroke-width="1.6"/>
<line x1="690.00" y1="763.45" x2="697.00" y2="763.45" stroke="#333" stroke-width="1.6"/>
<line x1="690.00" y1="781.38" x2="697.00" y2="781.38" stroke="#333" stroke-width="1.6"/>
<line x1="686.50" y1="799.30" x2="700.50" y2="799.30" stroke="#333" stroke-width="1.6"/>
<line x1="690.00" y1="817.17" x2="697.00" y2="817.17" stroke="#333" stroke-width="1.6"/>
<line x1="690.00" y1="835.05" x2="697.00" y2="835.05" stroke="#333" stroke-width="1.6"/>
<line x1="690.00" y1="852.92" x2="697.00" y2="852.92" stroke="#333" stroke-width="1.6"/>
<line x1="1266.30" y1="30.52" x2="1262.80" y2="30.52" stroke="#333" stroke-width="1.6"/>
<line x1="1266.30" y1="49.55" x2="1262.80" y2="49.55" stroke="#333" stroke-width="1.6"/>
<line x1="1266.30" y1="68.57" x2="1262.80" y2="68.57" stroke="#333" stroke-width="1.6"/>
<line x1="1266.30" y1="87.60" x2="1259.30" y2="87.60" stroke="#333" stroke-width="1.6"/>
<line x1="1266.30" y1="106.65" x2="1262.80" y2="106.65" stroke="#333" stroke-width="1.6"/>
<line x1="1266.30" y1="125.70" x2="1262.80" y2="125.70" stroke="#333" stroke-width="1.6"/>
<line x1="1266.30" y1="144.75" x2="1262.80" y2="144.75" stroke="#333" stroke-width="1.6"/>
<line x1="1266.30" y1="163.80" x2="1259.30" y2="163.80" stroke="#333" stroke-width="1.6"/>
<line x1="1266.30" y1="182.85" x2="1262.80" y2="182.85" stroke="#333" stroke-width="1.6"/>
<line x1="1266.30" y1="201.90" x2="1262.80" y2="201.90" stroke="#333" stroke-width="1.6"/>
<line x1="1266.30" y1="220.95" x2="1262.80" y2="220.95" stroke="#333" stroke-width="1.6"/>
<line x1="1266.30" y1="240.00" x2="1259.30" y2="240.00" stroke="#333" stroke-width="1.6"/>
<line x1="1266.30" y1="259.05" x2="1262.80" y2="259.05" stroke="#333" stroke-width="1.6"/>
<line x1="1266.30" y1="278.10" x2="1262.80" y2="278.10" stroke="#333" stroke-width="1.6"/>
<line x1="1266.30" y1="300.70" x2="1262.80" y2="300.70" stroke="#333" stroke-width="1.6"/>
<line x1="1266.30" y1="315.60" x2="1262.80" y2="315.60" stroke="#333" stroke-width="1.6"/>
<line x1="1266.30" y1="330.50" x2="1262.80" y2="330.50" stroke="#333" stroke-width="1.6"/>
<line x1="1266.30" y1="345.40" x2="1259.30" y2="345.40" stroke="#333" stroke-width="1.6"/>
<line x1="1266.30" y1="360.27" x2="1262.80" y2="360.27" stroke="#333" stroke-width="1.6"/>
<line x1="1266.30" y1="375.15" x2="1262.80" y2="375.15" stroke="#333" stroke-width="1.6"/>
<line x1="1266.30" y1="390.02" x2="1262.80" y2="390.02" stroke="#333" stroke-width="1.6"/>
<line x1="1266.30" y1="404.90" x2="1259.30" y2="404.90" stroke="#333" stroke-width="1.6"/>
<line x1="1266.30" y1="419.92" x2="1262.80" y2="419.92" stroke="#333" stroke-width="1.6"/>
<line x1="1266.30" y1="434.95" x2="1262.80" y2="434.95" stroke="#333" stroke-width="1.6"/>
<line x1="1266.30" y1="449.98" x2="1262.80" y2="449.98" stroke="#333" stroke-width="1.6"/>
<line x1="1266.30" y1="465.00" x2="1259.30" y2="465.00" stroke="#333" stroke-width="1.6"/>
<line x1="1266.30" y1="479.77" x2="1262.80" y2="479.77" stroke="#333" stroke-width="1.6"/>
<line x1="1266.30" y1="494.55" x2="1262.80" y2="494.55" stroke="#333" stroke-width="1.6"/>
<line x1="1266.30" y1="509.33" x2="1262.80" y2="509.33" stroke="#333" stroke-width="1.6"/>
<line x1="1266.30" y1="524.10" x2="1259.30" y2="524.10" stroke="#333" stroke-width="1.6"/>
<line x1="1266.30" y1="538.95" x2="1262.80" y2="538.95" stroke="#333" stroke-width="1.6"/>
<line x1="1266.30" y1="553.80" x2="1262.80" y2="553.80" stroke="#333" stroke-width="1.6"/>
<line x1="1266.30" y1="568.65" x2="1262.80" y2="568.65" stroke="#333" stroke-width="1.6"/>
<line x1="1266.30" y1="602.30" x2="1262.80" y2="602.30" stroke="#333" stroke-width="1.6"/>
<line x1="1266.30" y1="620.20" x2="1262.80" y2="620.20" stroke="#333" stroke-width="1.6"/>
<line x1="1266.30" y1="638.10" x2="1262.80" y2="638.10" stroke="#333" stroke-width="1.6"/>
<line x1="1266.30" y1="656.00" x2="1259.30" y2="656.00" stroke="#333" stroke-width="1.6"/>
<line x1="1266.30" y1="673.90" x2="1262.80" y2="673.90" stroke="#333" stroke-width="1.6"/>
<line x1="1266.30" y1="691.80" x2="1262.80" y2="691.80" stroke="#333" stroke-width="1.6"/>
<line x1="1266.30" y1="709.70" x2="1262.80" y2="709.70" stroke="#333" stroke-width="1.6"/>
<line x1="1266.30" y1="727.60" x2="1259.30" y2="727.60" stroke="#333" stroke-width="1.6"/>
<line x1="1266.30" y1="745.52" x2="1262.80" y2="745.52" stroke="#333" stroke-width="1.6"/>
<line x1="1266.30" y1="763.45" x2="1262.80" y2="763.45" stroke="#333" stroke-width="1.6"/>
<line x1="1266.30" y1="781.38" x2="1262.80" y2="781.38" stroke="#333" stroke-width="1.6"/>
<line x1="1266.30" y1="799.30" x2="1259.30" y2="799.30" stroke="#333" stroke-width="1.6"/>
<line x1="1266.30" y1="817.17" x2="1262.80" y2="817.17" stroke="#333" stroke-width="1.6"/>
<line x1="1266.30" y1="835.05" x2="1262.80" y2="835.05" stroke="#333" stroke-width="1.6"/>
<line x1="1266.30" y1="852.92" x2="1262.80" y2="852.92" stroke="#333" stroke-width="1.6"/>
<line x1="139.32" y1="11.50" x2="139.32" y2="15.00" stroke="#333" stroke-width="1.6"/>
<line x1="158.45" y1="11.50" x2="158.45" y2="18.50" stroke="#333" stroke-width="1.6"/>
<line x1="177.57" y1="11.50" x2="177.57" y2="15.00" stroke="#333" stroke-width="1.6"/>
<line x1="196.70" y1="11.50" x2="196.70" y2="15.00" stroke="#333" stroke-width="1.6"/>
<line x1="215.82" y1="11.50" x2="215.82" y2="15.00" stroke="#333" stroke-width="1.6"/>
<line x1="234.95" y1="11.50" x2="234.95" y2="18.50" stroke="#333" stroke-width="1.6"/>
<line x1="254.07" y1="11.50" x2="254.07" y2="15.00" stroke="#333" stroke-width="1.6"/>
<line x1="273.20" y1="11.50" x2="273.20" y2="15.00" stroke="#333" stroke-width="1.6"/>
<line x1="292.32" y1="11.50" x2="292.32" y2="15.00" stroke="#333" stroke-width="1.6"/>
<line x1="311.45" y1="11.50" x2="311.45" y2="18.50" stroke="#333" stroke-width="1.6"/>
<line x1="330.57" y1="11.50" x2="330.57" y2="15.00" stroke="#333" stroke-width="1.6"/>
<line x1="349.70" y1="11.50" x2="349.70" y2="15.00" stroke="#333" stroke-width="1.6"/>
<line x1="368.82" y1="11.50" x2="368.82" y2="15.00" stroke="#333" stroke-width="1.6"/>
<line x1="387.95" y1="11.50" x2="387.95" y2="18.50" stroke="#333" stroke-width="1.6"/>
<line x1="407.07" y1="11.50" x2="407.07" y2="15.00" stroke="#333" stroke-width="1.6"/>
<line x1="426.20" y1="11.50" x2="426.20" y2="15.00" stroke="#333" stroke-width="1.6"/>
<line x1="445.32" y1="11.50" x2="445.32" y2="15.00" stroke="#333" stroke-width="1.6"/>
<line x1="464.45" y1="11.50" x2="464.45" y2="18.50" stroke="#333" stroke-width="1.6"/>
<line x1="483.57" y1="11.50" x2="483.57" y2="15.00" stroke="#333" stroke-width="1.6"/>
<line x1="502.70" y1="11.50" x2="502.70" y2="15.00" stroke="#333" stroke-width="1.6"/>
<line x1="521.83" y1="11.50" x2="521.83" y2="15.00" stroke="#333" stroke-width="1.6"/>
<line x1="540.95" y1="11.50" x2="540.95" y2="18.50" stroke="#333" stroke-width="1.6"/>
<line x1="560.08" y1="11.50" x2="560.08" y2="15.00" stroke="#333" stroke-width="1.6"/>
<line x1="579.20" y1="11.50" x2="579.20" y2="15.00" stroke="#333" stroke-width="1.6"/>
<line x1="598.33" y1="11.50" x2="598.33" y2="15.00" stroke="#333" stroke-width="1.6"/>
<line x1="617.45" y1="11.50" x2="617.45" y2="18.50" stroke="#333" stroke-width="1.6"/>
<line x1="636.58" y1="11.50" x2="636.58" y2="15.00" stroke="#333" stroke-width="1.6"/>
<line x1="655.70" y1="11.50" x2="655.70" y2="15.00" stroke="#333" stroke-width="1.6"/>
<line x1="674.83" y1="11.50" x2="674.83" y2="15.00" stroke="#333" stroke-width="1.6"/>
<line x1="139.32" y1="293.90" x2="139.32" y2="300.90" stroke="#333" stroke-width="1.6"/>
<line x1="158.45" y1="290.40" x2="158.45" y2="304.40" stroke="#333" stroke-width="1.6"/>
<line x1="177.57" y1="293.90" x2="177.57" y2="300.90" stroke="#333" stroke-width="1.6"/>
<line x1="196.70" y1="293.90" x2="196.70" y2="300.90" stroke="#333" stroke-width="1.6"/>
<line x1="215.82" y1="293.90" x2="215.82" y2="300.90" stroke="#333" stroke-width="1.6"/>
<line x1="234.95" y1="290.40" x2="234.95" y2="304.40" stroke="#333" stroke-width="1.6"/>
<line x1="254.07" y1="293.90" x2="254.07" y2="300.90" stroke="#333" stroke-width="1.6"/>
<line x1="273.20" y1="293.90" x2="273.20" y2="300.90" stroke="#333" stroke-width="1.6"/>
<line x1="292.32" y1="293.90" x2="292.32" y2="300.90" stroke="#333" stroke-width="1.6"/>
<line x1="311.45" y1="290.40" x2="311.45" y2="304.40" stroke="#333" stroke-width="1.6"/>
<line x1="330.57" y1="293.90" x2="330.57" y2="300.90" stroke="#333" stroke-width="1.6"/>
<line x1="349.70" y1="293.90" x2="349.70" y2="300.90" stroke="#333" stroke-width="1.6"/>
<line x1="368.82" y1="293.90" x2="368.82" y2="300.90" stroke="#333" stroke-width="1.6"/>
<line x1="387.95" y1="290.40" x2="387.95" y2="304.40" stroke="#333" stroke-width="1.6"/>
<line x1="407.07" y1="293.90" x2="407.07" y2="300.90" stroke="#333" stroke-width="1.6"/>
<line x1="426.20" y1="293.90" x2="426.20" y2="300.90" stroke="#333" stroke-width="1.6"/>
<line x1="445.32" y1="293.90" x2="445.32" y2="300.90" stroke="#333" stroke-width="1.6"/>
<line x1="464.45" y1="290.40" x2="464.45" y2="304.40" stroke="#333" stroke-width="1.6"/>
<line x1="483.57" y1="293.90" x2="483.57" y2="300.90" stroke="#333" stroke-width="1.6"/>
<line x1="502.70" y1="293.90" x2="502.70" y2="300.90" stroke="#333" stroke-width="1.6"/>
<line x1="521.83" y1="293.90" x2="521.83" y2="300.90" stroke="#333" stroke-width="1.6"/>
<line x1="540.95" y1="290.40" x2="540.95" y2="304.40" stroke="#333" stroke-width="1.6"/>
<line x1="560.08" y1="293.90" x2="560.08" y2="300.90" stroke="#333" stroke-width="1.6"/>
<line x1="579.20" y1="293.90" x2="579.20" y2="300.90" stroke="#333" stroke-width="1.6"/>
<line x1="598.33" y1="293.90" x2="598.33" y2="300.90" stroke="#333" stroke-width="1.6"/>
<line x1="617.45" y1="290.40" x2="617.45" y2="304.40" stroke="#333" stroke-width="1.6"/>
<line x1="636.58" y1="293.90" x2="636.58" y2="300.90" stroke="#333" stroke-width="1.6"/>
<line x1="655.70" y1="293.90" x2="655.70" y2="300.90" stroke="#333" stroke-width="1.6"/>
<line x1="674.83" y1="293.90" x2="674.83" y2="300.90" stroke="#333" stroke-width="1.6"/>
<line x1="139.32" y1="580.90" x2="139.32" y2="587.90" stroke="#333" stroke-width="1.6"/>
<line x1="158.45" y1="577.40" x2="158.45" y2="591.40" stroke="#333" stroke-width="1.6"/>
<line x1="177.57" y1="580.90" x2="177.57" y2="587.90" stroke="#333" stroke-width="1.6"/>
<line x1="196.70" y1="580.90" x2="196.70" y2="587.90" stroke="#333" stroke-width="1.6"/>
<line x1="215.82" y1="580.90" x2="215.82" y2="587.90" stroke="#333" stroke-width="1.6"/>
<line x1="234.95" y1="577.40" x2="234.95" y2="591.40" stroke="#333" stroke-width="1.6"/>
<line x1="254.07" y1="580.90" x2="254.07" y2="587.90" stroke="#333" stroke-width="1.6"/>
<line x1="273.20" y1="580.90" x2="273.20" y2="587.90" stroke="#333" stroke-width="1.6"/>
<line x1="292.32" y1="580.90" x2="292.32" y2="587.90" stroke="#333" stroke-width="1.6"/>
<line x1="311.45" y1="577.40" x2="311.45" y2="591.40" stroke="#333" stroke-width="1.6"/>
<line x1="330.57" y1="580.90" x2="330.57" y2="587.90" stroke="#333" stroke-width="1.6"/>
<line x1="349.70" y1="580.90" x2="349.70" y2="587.90" stroke="#333" stroke-width="1.6"/>
<line x1="368.82" y1="580.90" x2="368.82" y2="587.90" stroke="#333" stroke-width="1.6"/>
<line x1="387.95" y1="577.40" x2="387.95" y2="591.40" stroke="#333" stroke-width="1.6"/>
<line x1="407.07" y1="580.90" x2="407.07" y2="587.90" stroke="#333" stroke-width="1.6"/>
<line x1="426.20" y1="580.90" x2="426.20" y2="587.90" stroke="#333" stroke-width="1.6"/>
<line x1="445.32" y1="580.90" x2="445.32" y2="587.90" stroke="#333" stroke-width="1.6"/>
<line x1="464.45" y1="577.40" x2="464.45" y2="591.40" stroke="#333" stroke-width="1.6"/>
<line x1="483.57" y1="580.90" x2="483.57" y2="587.90" stroke="#333" stroke-width="1.6"/>
<line x1="502.70" y1="580.90" x2="502.70" y2="587.90" stroke="#333" stroke-width="1.6"/>
<line x1="521.83" y1="580.90" x2="521.83" y2="587.90" stroke="#333" stroke-width="1.6"/>
<line x1="540.95" y1="577.40" x2="540.95" y2="591.40" stroke="#333" stroke-width="1.6"/>
<line x1="560.08" y1="580.90" x2="560.08" y2="587.90" stroke="#333" stroke-width="1.6"/>
<line x1="579.20" y1="580.90" x2="579.20" y2="587.90" stroke="#333" stroke-width="1.6"/>
<line x1="598.33" y1="580.90" x2="598.33" y2="587.90" stroke="#333" stroke-width="1.6"/>
<line x1="617.45" y1="577.40" x2="617.45" y2="591.40" stroke="#333" stroke-width="1.6"/>
<line x1="636.58" y1="580.90" x2="636.58" y2="587.90" stroke="#333" stroke-width="1.6"/>
<line x1="655.70" y1="580.90" x2="655.70" y2="587.90" stroke="#333" stroke-width="1.6"/>
<line x1="674.83" y1="580.90" x2="674.83" y2="587.90" stroke="#333" stroke-width="1.6"/>
<line x1="139.32" y1="870.80" x2="139.32" y2="867.30" stroke="#333" stroke-width="1.6"/>
<line x1="158.45" y1="870.80" x2="158.45" y2="863.80" stroke="#333" stroke-width="1.6"/>
<line x1="177.57" y1="870.80" x2="177.57" y2="867.30" stroke="#333" stroke-width="1.6"/>
<line x1="196.70" y1="870.80" x2="196.70" y2="867.30" stroke="#333" stroke-width="1.6"/>
<line x1="215.82" y1="870.80" x2="215.82" y2="867.30" stroke="#333" stroke-width="1.6"/>
<line x1="234.95" y1="870.80" x2="234.95" y2="863.80" stroke="#333" stroke-width="1.6"/>
<line x1="254.07" y1="870.80" x2="254.07" y2="867.30" stroke="#333" stroke-width="1.6"/>
<line x1="273.20" y1="870.80" x2="273.20" y2="867.30" stroke="#333" stroke-width="1.6"/>
<line x1="292.32" y1="870.80" x2="292.32" y2="867.30" stroke="#333" stroke-width="1.6"/>
<line x1="311.45" y1="870.80" x2="311.45" y2="863.80" stroke="#333" stroke-width="1.6"/>
<line x1="330.57" y1="870.80" x2="330.57" y2="867.30" stroke="#333" stroke-width="1.6"/>
<line x1="349.70" y1="870.80" x2="349.70" y2="867.30" stroke="#333" stroke-width="1.6"/>
<line x1="368.82" y1="870.80" x2="368.82" y2="867.30" stroke="#333" stroke-width="1.6"/>
<line x1="387.95" y1="870.80" x2="387.95" y2="863.80" stroke="#333" stroke-width="1.6"/>
<line x1="407.07" y1="870.80" x2="407.07" y2="867.30" stroke="#333" stroke-width="1.6"/>
<line x1="426.20" y1="870.80" x2="426.20" y2="867.30" stroke="#333" stroke-width="1.6"/>
<line x1="445.32" y1="870.80" x2="445.32" y2="867.30" stroke="#333" stroke-width="1.6"/>
<line x1="464.45" y1="870.80" x2="464.45" y2="863.80" stroke="#333" stroke-width="1.6"/>
<line x1="483.57" y1="870.80" x2="483.57" y2="867.30" stroke="#333" stroke-width="1.6"/>
<line x1="502.70" y1="870.80" x2="502.70" y2="867.30" stroke="#333" stroke-width="1.6"/>
<line x1="521.83" y1="870.80" x2="521.83" y2="867.30" stroke="#333" stroke-width="1.6"/>
<line x1="540.95" y1="870.80" x2="540.95" y2="863.80" stroke="#333" stroke-width="1.6"/>
<line x1="560.08" y1="870.80" x2="560.08" y2="867.30" stroke="#333" stroke-width="1.6"/>
<line x1="579.20" y1="870.80" x2="579.20" y2="867.30" stroke="#333" stroke-width="1.6"/>
<line x1="598.33" y1="870.80" x2="598.33" y2="867.30" stroke="#333" stroke-width="1.6"/>
<line x1="617.45" y1="870.80" x2="617.45" y2="863.80" stroke="#333" stroke-width="1.6"/>
<line x1="636.58" y1="870.80" x2="636.58" y2="867.30" stroke="#333" stroke-width="1.6"/>
<line x1="655.70" y1="870.80" x2="655.70" y2="867.30" stroke="#333" stroke-width="1.6"/>
<line x1="674.83" y1="870.80" x2="674.83" y2="867.30" stroke="#333" stroke-width="1.6"/>
<line x1="712.70" y1="11.50" x2="712.70" y2="15.00" stroke="#333" stroke-width="1.6"/>
<line x1="731.80" y1="11.50" x2="731.80" y2="18.50" stroke="#333" stroke-width="1.6"/>
<line x1="750.90" y1="11.50" x2="750.90" y2="15.00" stroke="#333" stroke-width="1.6"/>
<line x1="770.00" y1="11.50" x2="770.00" y2="15.00" stroke="#333" stroke-width="1.6"/>
<line x1="789.10" y1="11.50" x2="789.10" y2="15.00" stroke="#333" stroke-width="1.6"/>
<line x1="808.20" y1="11.50" x2="808.20" y2="18.50" stroke="#333" stroke-width="1.6"/>
<line x1="827.30" y1="11.50" x2="827.30" y2="15.00" stroke="#333" stroke-width="1.6"/>
<line x1="846.40" y1="11.50" x2="846.40" y2="15.00" stroke="#333" stroke-width="1.6"/>
<line x1="865.50" y1="11.50" x2="865.50" y2="15.00" stroke="#333" stroke-width="1.6"/>
<line x1="884.60" y1="11.50" x2="884.60" y2="18.50" stroke="#333" stroke-width="1.6"/>
<line x1="903.70" y1="11.50" x2="903.70" y2="15.00" stroke="#333" stroke-width="1.6"/>
<line x1="922.80" y1="11.50" x2="922.80" y2="15.00" stroke="#333" stroke-width="1.6"/>
<line x1="941.90" y1="11.50" x2="941.90" y2="15.00" stroke="#333" stroke-width="1.6"/>
<line x1="961.00" y1="11.50" x2="961.00" y2="18.50" stroke="#333" stroke-width="1.6"/>
<line x1="980.10" y1="11.50" x2="980.10" y2="15.00" stroke="#333" stroke-width="1.6"/>
<line x1="999.20" y1="11.50" x2="999.20" y2="15.00" stroke="#333" stroke-width="1.6"/>
<line x1="1018.30" y1="11.50" x2="1018.30" y2="15.00" stroke="#333" stroke-width="1.6"/>
<line x1="1037.40" y1="11.50" x2="1037.40" y2="18.50" stroke="#333" stroke-width="1.6"/>
<line x1="1056.50" y1="11.50" x2="1056.50" y2="15.00" stroke="#333" stroke-width="1.6"/>
<line x1="1075.60" y1="11.50" x2="1075.60" y2="15.00" stroke="#333" stroke-width="1.6"/>
<line x1="1094.70" y1="11.50" x2="1094.70" y2="15.00" stroke="#333" stroke-width="1.6"/>
<line x1="1113.80" y1="11.50" x2="1113.80" y2="18.50" stroke="#333" stroke-width="1.6"/>
<line x1="1132.90" y1="11.50" x2="1132.90" y2="15.00" stroke="#333" stroke-width="1.6"/>
<line x1="1152.00" y1="11.50" x2="1152.00" y2="15.00" stroke="#333" stroke-width="1.6"/>
<line x1="1171.10" y1="11.50" x2="1171.10" y2="15.00" stroke="#333" stroke-width="1.6"/>
<line x1="1190.20" y1="11.50" x2="1190.20" y2="18.50" stroke="#333" stroke-width="1.6"/>
<line x1="1209.30" y1="11.50" x2="1209.30" y2="15.00" stroke="#333" stroke-width="1.6"/>
<line x1="1228.40" y1="11.50" x2="1228.40" y2="15.00" stroke="#333" stroke-width="1.6"/>
<line x1="1247.50" y1="11.50" x2="1247.50" y2="15.00" stroke="#333" stroke-width="1.6"/>
<line x1="712.70" y1="293.90" x2="712.70" y2="300.90" stroke="#333" stroke-width="1.6"/>
<line x1="731.80" y1="290.40" x2="731.80" y2="304.40" stroke="#333" stroke-width="1.6"/>
<line x1="750.90" y1="293.90" x2="750.90" y2="300.90" stroke="#333" stroke-width="1.6"/>
<line x1="770.00" y1="293.90" x2="770.00" y2="300.90" stroke="#333" stroke-width="1.6"/>
<line x1="789.10" y1="293.90" x2="789.10" y2="300.90" stroke="#333" stroke-width="1.6"/>
<line x1="808.20" y1="290.40" x2="808.20" y2="304.40" stroke="#333" stroke-width="1.6"/>
<line x1="827.30" y1="293.90" x2="827.30" y2="300.90" stroke="#333" stroke-width="1.6"/>
<line x1="846.40" y1="293.90" x2="846.40" y2="300.90" stroke="#333" stroke-width="1.6"/>
<line x1="865.50" y1="293.90" x2="865.50" y2="300.90" stroke="#333" stroke-width="1.6"/>
<line x1="884.60" y1="290.40" x2="884.60" y2="304.40" stroke="#333" stroke-width="1.6"/>
<line x1="903.70" y1="293.90" x2="903.70" y2="300.90" stroke="#333" stroke-width="1.6"/>
<line x1="922.80" y1="293.90" x2="922.80" y2="300.90" stroke="#333" stroke-width="1.6"/>
<line x1="941.90" y1="293.90" x2="941.90" y2="300.90" stroke="#333" stroke-width="1.6"/>
<line x1="961.00" y1="290.40" x2="961.00" y2="304.40" stroke="#333" stroke-width="1.6"/>
<line x1="980.10" y1="293.90" x2="980.10" y2="300.90" stroke="#333" stroke-width="1.6"/>
<line x1="999.20" y1="293.90" x2="999.20" y2="300.90" stroke="#333" stroke-width="1.6"/>
<line x1="1018.30" y1="293.90" x2="1018.30" y2="300.90" stroke="#333" stroke-width="1.6"/>
<line x1="1037.40" y1="290.40" x2="1037.40" y2="304.40" stroke="#333" stroke-width="1.6"/>
<line x1="1056.50" y1="293.90" x2="1056.50" y2="300.90" stroke="#333" stroke-width="1.6"/>
<line x1="1075.60" y1="293.90" x2="1075.60" y2="300.90" stroke="#333" stroke-width="1.6"/>
<line x1="1094.70" y1="293.90" x2="1094.70" y2="300.90" stroke="#333" stroke-width="1.6"/>
<line x1="1113.80" y1="290.40" x2="1113.80" y2="304.40" stroke="#333" stroke-width="1.6"/>
<line x1="1132.90" y1="293.90" x2="1132.90" y2="300.90" stroke="#333" stroke-width="1.6"/>
<line x1="1152.00" y1="293.90" x2="1152.00" y2="300.90" stroke="#333" stroke-width="1.6"/>
<line x1="1171.10" y1="293.90" x2="1171.10" y2="300.90" stroke="#333" stroke-width="1.6"/>
<line x1="1190.20" y1="290.40" x2="1190.20" y2="304.40" stroke="#333" stroke-width="1.6"/>
<line x1="1209.30" y1="293.90" x2="1209.30" y2="300.90" stroke="#333" stroke-width="1.6"/>
<line x1="1228.40" y1="293.90" x2="1228.40" y2="300.90" stroke="#333" stroke-width="1.6"/>
<line x1="1247.50" y1="293.90" x2="1247.50" y2="300.90" stroke="#333" stroke-width="1.6"/>
<line x1="712.70" y1="580.90" x2="712.70" y2="587.90" stroke="#333" stroke-width="1.6"/>
<line x1="731.80" y1="577.40" x2="731.80" y2="591.40" stroke="#333" stroke-width="1.6"/>
<line x1="750.90" y1="580.90" x2="750.90" y2="587.90" stroke="#333" stroke-width="1.6"/>
<line x1="770.00" y1="580.90" x2="770.00" y2="587.90" stroke="#333" stroke-width="1.6"/>
<line x1="789.10" y1="580.90" x2="789.10" y2="587.90" stroke="#333" stroke-width="1.6"/>
<line x1="808.20" y1="577.40" x2="808.20" y2="591.40" stroke="#333" stroke-width="1.6"/>
<line x1="827.30" y1="580.90" x2="827.30" y2="587.90" stroke="#333" stroke-width="1.6"/>
<line x1="846.40" y1="580.90" x2="846.40" y2="587.90" stroke="#333" stroke-width="1.6"/>
<line x1="865.50" y1="580.90" x2="865.50" y2="587.90" stroke="#333" stroke-width="1.6"/>
<line x1="884.60" y1="577.40" x2="884.60" y2="591.40" stroke="#333" stroke-width="1.6"/>
<line x1="903.70" y1="580.90" x2="903.70" y2="587.90" stroke="#333" stroke-width="1.6"/>
<line x1="922.80" y1="580.90" x2="922.80" y2="587.90" stroke="#333" stroke-width="1.6"/>
<line x1="941.90" y1="580.90" x2="941.90" y2="587.90" stroke="#333" stroke-width="1.6"/>
<line x1="961.00" y1="577.40" x2="961.00" y2="591.40" stroke="#333" stroke-width="1.6"/>
<line x1="980.10" y1="580.90" x2="980.10" y2="587.90" stroke="#333" stroke-width="1.6"/>
<line x1="999.20" y1="580.90" x2="999.20" y2="587.90" stroke="#333" stroke-width="1.6"/>
<line x1="1018.30" y1="580.90" x2="1018.30" y2="587.90" stroke="#333" stroke-width="1.6"/>
<line x1="1037.40" y1="577.40" x2="1037.40" y2="591.40" stroke="#333" stroke-width="1.6"/>
<line x1="1056.50" y1="580.90" x2="1056.50" y2="587.90" stroke="#333" stroke-width="1.6"/>
<line x1="1075.60" y1="580.90" x2="1075.60" y2="587.90" stroke="#333" stroke-width="1.6"/>
<line x1="1094.70" y1="580.90" x2="1094.70" y2="587.90" stroke="#333" stroke-width="1.6"/>
<line x1="1113.80" y1="577.40" x2="1113.80" y2="591.40" stroke="#333" stroke-width="1.6"/>
<line x1="1132.90" y1="580.90" x2="1132.90" y2="587.90" stroke="#333" stroke-width="1.6"/>
<line x1="1152.00" y1="580.90" x2="1152.00" y2="587.90" stroke="#333" stroke-width="1.6"/>
<line x1="1171.10" y1="580.90" x2="1171.10" y2="587.90" stroke="#333" stroke-width="1.6"/>
<line x1="1190.20" y1="577.40" x2="1190.20" y2="591.40" stroke="#333" stroke-width="1.6"/>
<line x1="1209.30" y1="580.90" x2="1209.30" y2="587.90" stroke="#333" stroke-width="1.6"/>
<line x1="1228.40" y1="580.90" x2="1228.40" y2="587.90" stroke="#333" stroke-width="1.6"/>
<line x1="1247.50" y1="580.90" x2="1247.50" y2="587.90" stroke="#333" stroke-width="1.6"/>
<line x1="712.70" y1="870.80" x2="712.70" y2="867.30" stroke="#333" stroke-width="1.6"/>
<line x1="731.80" y1="870.80" x2="731.80" y2="863.80" stroke="#333" stroke-width="1.6"/>
<line x1="750.90" y1="870.80" x2="750.90" y2="867.30" stroke="#333" stroke-width="1.6"/>
<line x1="770.00" y1="870.80" x2="770.00" y2="867.30" stroke="#333" stroke-width="1.6"/>
<line x1="789.10" y1="870.80" x2="789.10" y2="867.30" stroke="#333" stroke-width="1.6"/>
<line x1="808.20" y1="870.80" x2="808.20" y2="863.80" stroke="#333" stroke-width="1.6"/>
<line x1="827.30" y1="870.80" x2="827.30" y2="867.30" stroke="#333" stroke-width="1.6"/>
<line x1="846.40" y1="870.80" x2="846.40" y2="867.30" stroke="#333" stroke-width="1.6"/>
<line x1="865.50" y1="870.80" x2="865.50" y2="867.30" stroke="#333" stroke-width="1.6"/>
<line x1="884.60" y1="870.80" x2="884.60" y2="863.80" stroke="#333" stroke-width="1.6"/>
<line x1="903.70" y1="870.80" x2="903.70" y2="867.30" stroke="#333" stroke-width="1.6"/>
<line x1="922.80" y1="870.80" x2="922.80" y2="867.30" stroke="#333" stroke-width="1.6"/>
<line x1="941.90" y1="870.80" x2="941.90" y2="867.30" stroke="#333" stroke-width="1.6"/>
<line x1="961.00" y1="870.80" x2="961.00" y2="863.80" stroke="#333" stroke-width="1.6"/>
<line x1="980.10" y1="870.80" x2="980.10" y2="867.30" stroke="#333" stroke-width="1.6"/>
<line x1="999.20" y1="870.80" x2="999.20" y2="867.30" stroke="#333" stroke-width="1.6"/>
<line x1="1018.30" y1="870.80" x2="1018.30" y2="867.30" stroke="#333" stroke-width="1.6"/>
<line x1="1037.40" y1="870.80" x2="1037.40" y2="863.80" stroke="#333" stroke-width="1.6"/>
<line x1="1056.50" y1="870.80" x2="1056.50" y2="867.30" stroke="#333" stroke-width="1.6"/>
<line x1="1075.60" y1="870.80" x2="1075.60" y2="867.30" stroke="#333" stroke-width="1.6"/>
<line x1="1094.70" y1="870.80" x2="1094.70" y2="867.30" stroke="#333" stroke-width="1.6"/>
<line x1="1113.80" y1="870.80" x2="1113.80" y2="863.80" stroke="#333" stroke-width="1.6"/>
<line x1="1132.90" y1="870.80" x2="1132.90" y2="867.30" stroke="#333" stroke-width="1.6"/>
<line x1="1152.00" y1="870.80" x2="1152.00" y2="867.30" stroke="#333" stroke-width="1.6"/>
<line x1="1171.10" y1="870.80" x2="1171.10" y2="867.30" stroke="#333" stroke-width="1.6"/>
<line x1="1190.20" y1="870.80" x2="1190.20" y2="863.80" stroke="#333" stroke-width="1.6"/>
<line x1="1209.30" y1="870.80" x2="1209.30" y2="867.30" stroke="#333" stroke-width="1.6"/>
<line x1="1228.40" y1="870.80" x2="1228.40" y2="867.30" stroke="#333" stroke-width="1.6"/>
<line x1="1247.50" y1="870.80" x2="1247.50" y2="867.30" stroke="#333" stroke-width="1.6"/>
<line x1="119.20" y1="11.50" x2="1267.30" y2="11.50" stroke="#333" stroke-width="2.0"/>
<line x1="119.20" y1="297.40" x2="1266.30" y2="297.40" stroke="#333" stroke-width="2.0"/>
<line x1="119.20" y1="584.40" x2="1266.30" y2="584.40" stroke="#333" stroke-width="2.0"/>
<line x1="119.20" y1="870.80" x2="1267.30" y2="870.80" stroke="#333" stroke-width="2.0"/>
<line x1="120.20" y1="10.50" x2="120.20" y2="871.80" stroke="#333" stroke-width="2.0"/>
<line x1="693.50" y1="11.50" x2="693.50" y2="870.80" stroke="#333" stroke-width="2.0"/>
<line x1="1266.30" y1="10.50" x2="1266.30" y2="871.80" stroke="#333" stroke-width="2.0"/>
</g>
<g>
<rect x="152.2" y="290.8" width="13.2" height="13.6" fill="#4a3fb8" stroke="#33bfee" stroke-width="1.6"/>
<polygon points="158.8,292.1 163.2,302.8 154.2,302.8" fill="#b8306e"/>
<polygon points="158.8,295.6 160.9,301.6 156.6,301.6" fill="#d8a0c8"/>
<line x1="158.8" y1="295.6" x2="158.8" y2="302.6" stroke="#402020" stroke-width="1.4"/>
</g>
<g>
<text x="112.5" y="18.5" font-size="19.5" text-anchor="end" >236</text>
<text x="112.5" y="69.9" font-size="19.5" text-anchor="end" >234</text>
<text x="112.5" y="121.3" font-size="19.5" text-anchor="end" >232</text>
<text x="112.5" y="173.7" font-size="19.5" text-anchor="end" >230</text>
<text x="112.5" y="226.3" font-size="19.5" text-anchor="end" >228</text>
<text x="112.5" y="278.5" font-size="19.5" text-anchor="end" >226</text>
<text x="112.5" y="328.5" font-size="19.5" text-anchor="end" >232</text>
<text x="112.5" y="376.3" font-size="19.5" text-anchor="end" >228</text>
<text x="112.5" y="424.1" font-size="19.5" text-anchor="end" >224</text>
<text x="112.5" y="471.9" font-size="19.5" text-anchor="end" >220</text>
<text x="112.5" y="519.7" font-size="19.5" text-anchor="end" >216</text>
<text x="112.5" y="567.5" font-size="19.5" text-anchor="end" >212</text>
<text x="112.5" y="591.4" font-size="19.5" text-anchor="end" >0.999</text>
<text x="112.5" y="663.0" font-size="19.5" text-anchor="end" >0.9985</text>
<text x="112.5" y="734.6" font-size="19.5" text-anchor="end" >0.998</text>
<text x="112.5" y="806.3" font-size="19.5" text-anchor="end" >0.9975</text>
<text x="112.5" y="877.8" font-size="19.5" text-anchor="end" >0.997</text>
<text x="158.4" y="897.0" font-size="19.5" text-anchor="middle" >2</text>
<text x="234.9" y="897.0" font-size="19.5" text-anchor="middle" >4</text>
<text x="311.4" y="897.0" font-size="19.5" text-anchor="middle" >6</text>
<text x="387.9" y="897.0" font-size="19.5" text-anchor="middle" >8</text>
<text x="464.4" y="897.0" font-size="19.5" text-anchor="middle" >10</text>
<text x="541.0" y="897.0" font-size="19.5" text-anchor="middle" >12</text>
<text x="617.5" y="897.0" font-size="19.5" text-anchor="middle" >14</text>
<text x="731.8" y="897.0" font-size="19.5" text-anchor="middle" >2</text>
<text x="808.2" y="897.0" font-size="19.5" text-anchor="middle" >4</text>
<text x="884.6" y="897.0" font-size="19.5" text-anchor="middle" >6</text>
<text x="961.0" y="897.0" font-size="19.5" text-anchor="middle" >8</text>
<text x="1037.4" y="897.0" font-size="19.5" text-anchor="middle" >10</text>
<text x="1113.8" y="897.0" font-size="19.5" text-anchor="middle" >12</text>
<text x="1190.2" y="897.0" font-size="19.5" text-anchor="middle" >14</text>
<text x="1266.6" y="897.0" font-size="19.5" text-anchor="middle" >16</text>
<text transform="translate(398.00,933.80) scale(0.99,1)" font-size="36.0" text-anchor="middle">Cycle number</text>
<text transform="translate(971.20,933.80) scale(0.99,1)" font-size="36.0" text-anchor="middle">Cycle number</text>
<text transform="translate(27.80,152.40) rotate(-90) scale(1.05,1)" font-size="30.5" text-anchor="middle">Ch. End.</text>
<text transform="translate(63.30,151.60) rotate(-90) scale(1.05,1)" font-size="30.5" text-anchor="middle">Cap. (mA h)</text>
<text transform="translate(58.6,439.8) rotate(-90) scale(1.05,1)" font-size="30.5" text-anchor="middle">Q<tspan font-size="18" dy="8">D</tspan><tspan dy="-8"> (mA h)</tspan></text>
<text transform="translate(40.00,726.70) rotate(-90) scale(1.0,1)" font-size="30.5" text-anchor="middle">CE</text>
<text transform="translate(672.40,40.45) scale(1.05,1)" font-size="21.3" text-anchor="middle">(a)</text>
<text transform="translate(674.85,326.15) scale(1.05,1)" font-size="21.3" text-anchor="middle">(b)</text>
<text transform="translate(676.20,614.55) scale(1.05,1)" font-size="21.3" text-anchor="middle">(c)</text>
<text transform="translate(1242.70,40.55) scale(1.05,1)" font-size="21.3" text-anchor="middle">(d)</text>
<text transform="translate(1234.15,331.95) scale(1.05,1)" font-size="21.3" text-anchor="middle">(e)</text>
<text transform="translate(1235.80,619.35) scale(1.05,1)" font-size="21.3" text-anchor="middle">(f)</text>
<text transform="translate(203.30,611.60) scale(1.125,1)" font-size="19.5" text-anchor="start">Control</text>
<text transform="translate(203.30,639.70) scale(1.125,1)" font-size="19.5" text-anchor="start">1 wt% TTSPi</text>
<text transform="translate(203.30,667.70) scale(1.125,1)" font-size="19.5" text-anchor="start">2 wt% TTSPi</text>
<text transform="translate(203.30,695.90) scale(1.125,1)" font-size="19.5" text-anchor="start">3 wt% TTSPi</text>
<text transform="translate(767.30,614.50) scale(1.125,1)" font-size="19.5" text-anchor="start">2 wt% VC</text>
<text transform="translate(767.30,642.60) scale(1.125,1)" font-size="19.5" text-anchor="start">2 wt% VC + 1 wt% TTSPi</text>
<text transform="translate(767.30,670.80) scale(1.125,1)" font-size="19.5" text-anchor="start">2 wt% VC + 2 wt% TTSPi</text>
<text transform="translate(767.30,698.50) scale(1.125,1)" font-size="19.5" text-anchor="start">2 wt% VC + 3 wt% TTSPi</text>
</g>
</g>
</svg>
</body></html>
